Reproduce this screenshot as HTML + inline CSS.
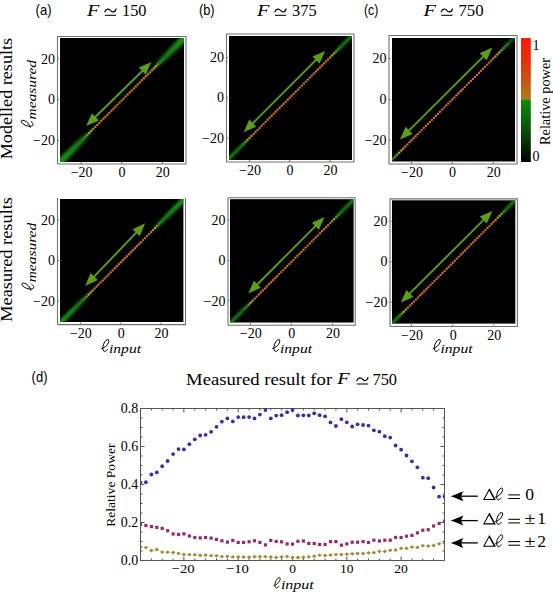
<!DOCTYPE html><html><head><meta charset="utf-8"><style>html,body{margin:0;padding:0;background:#fff;width:553px;height:595px;overflow:hidden}</style></head><body><svg width="553" height="595" viewBox="0 0 553 595" style="display:block">
<defs>
<filter id="blur3" x="-50%" y="-50%" width="200%" height="200%"><feGaussianBlur stdDeviation="2.6"/></filter>
<filter id="blur2" x="-50%" y="-50%" width="200%" height="200%"><feGaussianBlur stdDeviation="1.8"/></filter>
<filter id="blurA" x="-50%" y="-50%" width="200%" height="200%"><feGaussianBlur stdDeviation="1.6"/></filter>
<filter id="blur1" x="-50%" y="-50%" width="200%" height="200%"><feGaussianBlur stdDeviation="1.1"/></filter>
<filter id="soft" x="-50%" y="-50%" width="200%" height="200%"><feGaussianBlur stdDeviation="0.45"/></filter>
<linearGradient id="cbar" x1="0" y1="0" x2="0" y2="1"><stop offset="0" stop-color="#f81c0a"/><stop offset="0.15" stop-color="#ec2a0c"/><stop offset="0.35" stop-color="#c85414"/><stop offset="0.495" stop-color="#a68018"/><stop offset="0.5" stop-color="#0e8a0e"/><stop offset="0.72" stop-color="#0a560a"/><stop offset="1" stop-color="#000"/></linearGradient>
</defs>
<rect width="553" height="595" fill="#fff"/>
<text x="35.6" y="15" font-family="'Liberation Sans', sans-serif" font-size="14.5" textLength="15.9" lengthAdjust="spacingAndGlyphs">(a)</text>
<text x="198.9" y="15" font-family="'Liberation Sans', sans-serif" font-size="14.5" textLength="15.7" lengthAdjust="spacingAndGlyphs">(b)</text>
<text x="363.9" y="15" font-family="'Liberation Sans', sans-serif" font-size="14.5" textLength="14.4" lengthAdjust="spacingAndGlyphs">(c)</text>
<text x="87.0" y="16.2" font-family="'Liberation Serif', serif" font-style="italic" font-size="17.5" textLength="12.4" lengthAdjust="spacingAndGlyphs">F</text>
<path d="M104.90,11.90 C105.90,8.40 109.10,8.60 110.50,10.50 C111.90,12.40 115.10,12.60 116.00,9.00" fill="none" stroke="#000" stroke-width="1.25" stroke-linecap="round"/>
<line x1="104.90" y1="15.30" x2="116.10" y2="15.30" stroke="#000" stroke-width="1.05"/>
<text x="122.0" y="16.2" font-family="'Liberation Serif', serif" font-size="17.5" textLength="24.5" lengthAdjust="spacingAndGlyphs">150</text>
<text x="257.1" y="16.2" font-family="'Liberation Serif', serif" font-style="italic" font-size="17.5" textLength="12.4" lengthAdjust="spacingAndGlyphs">F</text>
<path d="M275.00,11.90 C276.00,8.40 279.20,8.60 280.60,10.50 C282.00,12.40 285.20,12.60 286.10,9.00" fill="none" stroke="#000" stroke-width="1.25" stroke-linecap="round"/>
<line x1="275.00" y1="15.30" x2="286.20" y2="15.30" stroke="#000" stroke-width="1.05"/>
<text x="292.1" y="16.2" font-family="'Liberation Serif', serif" font-size="17.5" textLength="24.5" lengthAdjust="spacingAndGlyphs">375</text>
<text x="423.4" y="16.2" font-family="'Liberation Serif', serif" font-style="italic" font-size="17.5" textLength="12.4" lengthAdjust="spacingAndGlyphs">F</text>
<path d="M441.30,11.90 C442.30,8.40 445.50,8.60 446.90,10.50 C448.30,12.40 451.50,12.60 452.40,9.00" fill="none" stroke="#000" stroke-width="1.25" stroke-linecap="round"/>
<line x1="441.30" y1="15.30" x2="452.50" y2="15.30" stroke="#000" stroke-width="1.05"/>
<text x="458.4" y="16.2" font-family="'Liberation Serif', serif" font-size="17.5" textLength="25.2" lengthAdjust="spacingAndGlyphs">750</text>
<clipPath id="cp0"><rect x="60" y="38" width="124" height="124"/></clipPath>
<path d="M57.5,164 V36.5 H186 V164 H57.5" fill="none" stroke="#707070" stroke-width="1.1"/>
<rect x="60" y="38" width="124" height="124" fill="#000"/>
<g clip-path="url(#cp0)">
<g filter="url(#blurA)">
<circle cx="56.8" cy="165.4" r="3.71" fill="#189018" opacity="0.83"/>
<circle cx="58.8" cy="163.4" r="3.64" fill="#189018" opacity="0.83"/>
<circle cx="60.8" cy="161.3" r="3.57" fill="#189018" opacity="0.83"/>
<circle cx="62.9" cy="159.3" r="3.50" fill="#189018" opacity="0.83"/>
<circle cx="64.9" cy="157.3" r="3.43" fill="#189018" opacity="0.83"/>
<circle cx="66.9" cy="155.3" r="3.36" fill="#189018" opacity="0.83"/>
<circle cx="68.9" cy="153.2" r="3.29" fill="#189018" opacity="0.81"/>
<circle cx="71.0" cy="151.2" r="3.22" fill="#189018" opacity="0.78"/>
<circle cx="73.0" cy="149.2" r="3.15" fill="#189018" opacity="0.76"/>
<circle cx="75.0" cy="147.2" r="3.08" fill="#189018" opacity="0.73"/>
<circle cx="77.0" cy="145.1" r="3.01" fill="#189018" opacity="0.71"/>
<circle cx="79.1" cy="143.1" r="2.94" fill="#189018" opacity="0.68"/>
<circle cx="81.1" cy="141.1" r="2.87" fill="#189018" opacity="0.66"/>
<circle cx="83.1" cy="139.1" r="2.80" fill="#189018" opacity="0.63"/>
<circle cx="85.2" cy="137.0" r="2.63" fill="#189018" opacity="0.55"/>
<circle cx="87.2" cy="135.0" r="2.47" fill="#189018" opacity="0.48"/>
<circle cx="89.2" cy="133.0" r="2.30" fill="#189018" opacity="0.41"/>
<circle cx="91.2" cy="131.0" r="2.13" fill="#189018" opacity="0.33"/>
<circle cx="93.2" cy="128.9" r="1.97" fill="#189018" opacity="0.26"/>
<circle cx="95.3" cy="126.9" r="1.80" fill="#189018" opacity="0.18"/>
<circle cx="97.3" cy="124.9" r="1.80" fill="#189018" opacity="0.18"/>
<circle cx="99.3" cy="122.9" r="1.80" fill="#189018" opacity="0.18"/>
<circle cx="101.3" cy="120.8" r="1.80" fill="#189018" opacity="0.18"/>
<circle cx="103.4" cy="118.8" r="1.80" fill="#189018" opacity="0.18"/>
<circle cx="105.4" cy="116.8" r="1.80" fill="#189018" opacity="0.18"/>
<circle cx="107.4" cy="114.8" r="1.80" fill="#189018" opacity="0.18"/>
<circle cx="109.4" cy="112.8" r="1.80" fill="#189018" opacity="0.18"/>
<circle cx="111.5" cy="110.7" r="1.80" fill="#189018" opacity="0.18"/>
<circle cx="113.5" cy="108.7" r="1.80" fill="#189018" opacity="0.18"/>
<circle cx="115.5" cy="106.7" r="1.80" fill="#189018" opacity="0.18"/>
<circle cx="117.5" cy="104.6" r="1.80" fill="#189018" opacity="0.18"/>
<circle cx="119.6" cy="102.6" r="1.80" fill="#189018" opacity="0.18"/>
<circle cx="121.6" cy="100.6" r="1.80" fill="#189018" opacity="0.18"/>
<circle cx="123.6" cy="98.6" r="1.80" fill="#189018" opacity="0.18"/>
<circle cx="125.6" cy="96.5" r="1.80" fill="#189018" opacity="0.18"/>
<circle cx="127.7" cy="94.5" r="1.80" fill="#189018" opacity="0.18"/>
<circle cx="129.7" cy="92.5" r="1.80" fill="#189018" opacity="0.18"/>
<circle cx="131.7" cy="90.5" r="1.80" fill="#189018" opacity="0.18"/>
<circle cx="133.8" cy="88.4" r="1.80" fill="#189018" opacity="0.18"/>
<circle cx="135.8" cy="86.4" r="1.80" fill="#189018" opacity="0.18"/>
<circle cx="137.8" cy="84.4" r="1.80" fill="#189018" opacity="0.18"/>
<circle cx="139.8" cy="82.4" r="1.80" fill="#189018" opacity="0.18"/>
<circle cx="141.8" cy="80.3" r="1.80" fill="#189018" opacity="0.18"/>
<circle cx="143.9" cy="78.3" r="1.80" fill="#189018" opacity="0.18"/>
<circle cx="145.9" cy="76.3" r="1.80" fill="#189018" opacity="0.18"/>
<circle cx="147.9" cy="74.3" r="1.80" fill="#189018" opacity="0.18"/>
<circle cx="149.9" cy="72.2" r="1.80" fill="#189018" opacity="0.18"/>
<circle cx="152.0" cy="70.2" r="1.97" fill="#189018" opacity="0.26"/>
<circle cx="154.0" cy="68.2" r="2.13" fill="#189018" opacity="0.33"/>
<circle cx="156.0" cy="66.2" r="2.30" fill="#189018" opacity="0.41"/>
<circle cx="158.0" cy="64.2" r="2.47" fill="#189018" opacity="0.48"/>
<circle cx="160.1" cy="62.1" r="2.63" fill="#189018" opacity="0.55"/>
<circle cx="162.1" cy="60.1" r="2.80" fill="#189018" opacity="0.63"/>
<circle cx="164.1" cy="58.1" r="2.87" fill="#189018" opacity="0.66"/>
<circle cx="166.1" cy="56.0" r="2.94" fill="#189018" opacity="0.68"/>
<circle cx="168.2" cy="54.0" r="3.01" fill="#189018" opacity="0.71"/>
<circle cx="170.2" cy="52.0" r="3.08" fill="#189018" opacity="0.73"/>
<circle cx="172.2" cy="50.0" r="3.15" fill="#189018" opacity="0.76"/>
<circle cx="174.2" cy="47.9" r="3.22" fill="#189018" opacity="0.78"/>
<circle cx="176.3" cy="45.9" r="3.29" fill="#189018" opacity="0.81"/>
<circle cx="178.3" cy="43.9" r="3.36" fill="#189018" opacity="0.83"/>
<circle cx="180.3" cy="41.9" r="3.43" fill="#189018" opacity="0.83"/>
<circle cx="182.3" cy="39.8" r="3.50" fill="#189018" opacity="0.83"/>
<circle cx="184.4" cy="37.8" r="3.57" fill="#189018" opacity="0.83"/>
<circle cx="186.4" cy="35.8" r="3.64" fill="#189018" opacity="0.83"/>
</g>
<g>
<circle cx="83.1" cy="139.1" r="1.2" fill="#3ca028" opacity="0.40"/>
<circle cx="85.2" cy="137.0" r="1.2" fill="#69a02c" opacity="0.60"/>
<circle cx="87.2" cy="135.0" r="1.2" fill="#97a030" opacity="0.80"/>
<circle cx="89.2" cy="133.0" r="1.2" fill="#c4a034" opacity="1.00"/>
<circle cx="91.2" cy="131.0" r="1.2" fill="#c78e32" opacity="1.00"/>
<circle cx="93.2" cy="128.9" r="1.2" fill="#c97c30" opacity="1.00"/>
<circle cx="95.3" cy="126.9" r="1.2" fill="#cc6a2e" opacity="1.00"/>
<circle cx="97.3" cy="124.9" r="1.2" fill="#cc6a2e" opacity="1.00"/>
<circle cx="99.3" cy="122.9" r="1.2" fill="#cc6a2e" opacity="1.00"/>
<circle cx="101.3" cy="120.8" r="1.2" fill="#cc6a2e" opacity="1.00"/>
<circle cx="103.4" cy="118.8" r="1.2" fill="#cc6a2e" opacity="1.00"/>
<circle cx="105.4" cy="116.8" r="1.2" fill="#cc6a2e" opacity="1.00"/>
<circle cx="107.4" cy="114.8" r="1.2" fill="#cc6a2e" opacity="1.00"/>
<circle cx="109.4" cy="112.8" r="1.2" fill="#cc6a2e" opacity="1.00"/>
<circle cx="111.5" cy="110.7" r="1.2" fill="#cc6a2e" opacity="1.00"/>
<circle cx="113.5" cy="108.7" r="1.2" fill="#cc6a2e" opacity="1.00"/>
<circle cx="115.5" cy="106.7" r="1.2" fill="#cc6a2e" opacity="1.00"/>
<circle cx="117.5" cy="104.6" r="1.2" fill="#cc6a2e" opacity="1.00"/>
<circle cx="119.6" cy="102.6" r="1.2" fill="#cc6a2e" opacity="1.00"/>
<circle cx="121.6" cy="100.6" r="1.2" fill="#cc6a2e" opacity="1.00"/>
<circle cx="123.6" cy="98.6" r="1.2" fill="#cc6a2e" opacity="1.00"/>
<circle cx="125.6" cy="96.5" r="1.2" fill="#cc6a2e" opacity="1.00"/>
<circle cx="127.7" cy="94.5" r="1.2" fill="#cc6a2e" opacity="1.00"/>
<circle cx="129.7" cy="92.5" r="1.2" fill="#cc6a2e" opacity="1.00"/>
<circle cx="131.7" cy="90.5" r="1.2" fill="#cc6a2e" opacity="1.00"/>
<circle cx="133.8" cy="88.4" r="1.2" fill="#cc6a2e" opacity="1.00"/>
<circle cx="135.8" cy="86.4" r="1.2" fill="#cc6a2e" opacity="1.00"/>
<circle cx="137.8" cy="84.4" r="1.2" fill="#cc6a2e" opacity="1.00"/>
<circle cx="139.8" cy="82.4" r="1.2" fill="#cc6a2e" opacity="1.00"/>
<circle cx="141.8" cy="80.3" r="1.2" fill="#cc6a2e" opacity="1.00"/>
<circle cx="143.9" cy="78.3" r="1.2" fill="#cc6a2e" opacity="1.00"/>
<circle cx="145.9" cy="76.3" r="1.2" fill="#cc6a2e" opacity="1.00"/>
<circle cx="147.9" cy="74.3" r="1.2" fill="#cc6a2e" opacity="1.00"/>
<circle cx="149.9" cy="72.2" r="1.2" fill="#cc6a2e" opacity="1.00"/>
<circle cx="152.0" cy="70.2" r="1.2" fill="#c97c30" opacity="1.00"/>
<circle cx="154.0" cy="68.2" r="1.2" fill="#c78e32" opacity="1.00"/>
<circle cx="156.0" cy="66.2" r="1.2" fill="#c4a034" opacity="1.00"/>
<circle cx="158.0" cy="64.2" r="1.2" fill="#97a030" opacity="0.80"/>
<circle cx="160.1" cy="62.1" r="1.2" fill="#69a02c" opacity="0.60"/>
<circle cx="162.1" cy="60.1" r="1.2" fill="#3ca028" opacity="0.40"/>
</g>
</g>
<line x1="93.5" y1="118.7" x2="144.1" y2="69.2" stroke="#5c9e1c" stroke-width="1.9"/>
<polygon points="86.1,126.0 98.9,120.5 91.9,113.3" fill="#5c9e1c"/>
<polygon points="151.5,61.9 145.7,74.6 138.7,67.4" fill="#5c9e1c"/>
<line x1="81.2" y1="164" x2="81.2" y2="162" stroke="#707070" stroke-width="1"/>
<line x1="121.6" y1="164" x2="121.6" y2="162" stroke="#707070" stroke-width="1"/>
<line x1="162.3" y1="164" x2="162.3" y2="162" stroke="#707070" stroke-width="1"/>
<line x1="57" y1="58.9" x2="59" y2="58.9" stroke="#707070" stroke-width="1"/>
<line x1="57" y1="99.6" x2="59" y2="99.6" stroke="#707070" stroke-width="1"/>
<line x1="57" y1="140.4" x2="59" y2="140.4" stroke="#707070" stroke-width="1"/>
<clipPath id="cp1"><rect x="229" y="36" width="123" height="124"/></clipPath>
<path d="M226.5,162 V34.0 H354 V162 H226.5" fill="none" stroke="#707070" stroke-width="1.1"/>
<rect x="229" y="36" width="123" height="124" fill="#000"/>
<g clip-path="url(#cp1)">
<g filter="url(#blur1)">
<circle cx="225.4" cy="162.1" r="2.24" fill="#189018" opacity="0.87"/>
<circle cx="227.4" cy="160.1" r="2.21" fill="#189018" opacity="0.86"/>
<circle cx="229.4" cy="158.1" r="2.18" fill="#189018" opacity="0.84"/>
<circle cx="231.4" cy="156.1" r="2.15" fill="#189018" opacity="0.82"/>
<circle cx="233.4" cy="154.1" r="2.12" fill="#189018" opacity="0.80"/>
<circle cx="235.5" cy="152.0" r="2.09" fill="#189018" opacity="0.78"/>
<circle cx="237.5" cy="150.0" r="2.06" fill="#189018" opacity="0.76"/>
<circle cx="239.5" cy="148.0" r="2.03" fill="#189018" opacity="0.74"/>
<circle cx="241.5" cy="146.0" r="2.00" fill="#189018" opacity="0.72"/>
<circle cx="243.5" cy="144.0" r="1.88" fill="#189018" opacity="0.62"/>
<circle cx="245.5" cy="142.0" r="1.77" fill="#189018" opacity="0.52"/>
<circle cx="247.5" cy="140.0" r="1.65" fill="#189018" opacity="0.42"/>
<circle cx="249.6" cy="137.9" r="1.53" fill="#189018" opacity="0.32"/>
<circle cx="251.6" cy="135.9" r="1.42" fill="#189018" opacity="0.22"/>
<circle cx="253.6" cy="133.9" r="1.30" fill="#189018" opacity="0.12"/>
<circle cx="255.6" cy="131.9" r="1.30" fill="#189018" opacity="0.12"/>
<circle cx="257.6" cy="129.9" r="1.30" fill="#189018" opacity="0.12"/>
<circle cx="259.6" cy="127.9" r="1.30" fill="#189018" opacity="0.12"/>
<circle cx="261.6" cy="125.9" r="1.30" fill="#189018" opacity="0.12"/>
<circle cx="263.6" cy="123.9" r="1.30" fill="#189018" opacity="0.12"/>
<circle cx="265.7" cy="121.9" r="1.30" fill="#189018" opacity="0.12"/>
<circle cx="267.7" cy="119.8" r="1.30" fill="#189018" opacity="0.12"/>
<circle cx="269.7" cy="117.8" r="1.30" fill="#189018" opacity="0.12"/>
<circle cx="271.7" cy="115.8" r="1.30" fill="#189018" opacity="0.12"/>
<circle cx="273.7" cy="113.8" r="1.30" fill="#189018" opacity="0.12"/>
<circle cx="275.7" cy="111.8" r="1.30" fill="#189018" opacity="0.12"/>
<circle cx="277.7" cy="109.8" r="1.30" fill="#189018" opacity="0.12"/>
<circle cx="279.7" cy="107.8" r="1.30" fill="#189018" opacity="0.12"/>
<circle cx="281.8" cy="105.8" r="1.30" fill="#189018" opacity="0.12"/>
<circle cx="283.8" cy="103.7" r="1.30" fill="#189018" opacity="0.12"/>
<circle cx="285.8" cy="101.7" r="1.30" fill="#189018" opacity="0.12"/>
<circle cx="287.8" cy="99.7" r="1.30" fill="#189018" opacity="0.12"/>
<circle cx="289.8" cy="97.7" r="1.30" fill="#189018" opacity="0.12"/>
<circle cx="291.8" cy="95.7" r="1.30" fill="#189018" opacity="0.12"/>
<circle cx="293.8" cy="93.7" r="1.30" fill="#189018" opacity="0.12"/>
<circle cx="295.8" cy="91.7" r="1.30" fill="#189018" opacity="0.12"/>
<circle cx="297.9" cy="89.7" r="1.30" fill="#189018" opacity="0.12"/>
<circle cx="299.9" cy="87.6" r="1.30" fill="#189018" opacity="0.12"/>
<circle cx="301.9" cy="85.6" r="1.30" fill="#189018" opacity="0.12"/>
<circle cx="303.9" cy="83.6" r="1.30" fill="#189018" opacity="0.12"/>
<circle cx="305.9" cy="81.6" r="1.30" fill="#189018" opacity="0.12"/>
<circle cx="307.9" cy="79.6" r="1.30" fill="#189018" opacity="0.12"/>
<circle cx="309.9" cy="77.6" r="1.30" fill="#189018" opacity="0.12"/>
<circle cx="311.9" cy="75.6" r="1.30" fill="#189018" opacity="0.12"/>
<circle cx="313.9" cy="73.5" r="1.30" fill="#189018" opacity="0.12"/>
<circle cx="316.0" cy="71.5" r="1.30" fill="#189018" opacity="0.12"/>
<circle cx="318.0" cy="69.5" r="1.30" fill="#189018" opacity="0.12"/>
<circle cx="320.0" cy="67.5" r="1.30" fill="#189018" opacity="0.12"/>
<circle cx="322.0" cy="65.5" r="1.30" fill="#189018" opacity="0.12"/>
<circle cx="324.0" cy="63.5" r="1.30" fill="#189018" opacity="0.12"/>
<circle cx="326.0" cy="61.5" r="1.30" fill="#189018" opacity="0.12"/>
<circle cx="328.0" cy="59.5" r="1.30" fill="#189018" opacity="0.12"/>
<circle cx="330.1" cy="57.5" r="1.42" fill="#189018" opacity="0.22"/>
<circle cx="332.1" cy="55.4" r="1.53" fill="#189018" opacity="0.32"/>
<circle cx="334.1" cy="53.4" r="1.65" fill="#189018" opacity="0.42"/>
<circle cx="336.1" cy="51.4" r="1.77" fill="#189018" opacity="0.52"/>
<circle cx="338.1" cy="49.4" r="1.88" fill="#189018" opacity="0.62"/>
<circle cx="340.1" cy="47.4" r="2.00" fill="#189018" opacity="0.72"/>
<circle cx="342.1" cy="45.4" r="2.03" fill="#189018" opacity="0.74"/>
<circle cx="344.1" cy="43.4" r="2.06" fill="#189018" opacity="0.76"/>
<circle cx="346.2" cy="41.3" r="2.09" fill="#189018" opacity="0.78"/>
<circle cx="348.2" cy="39.3" r="2.12" fill="#189018" opacity="0.80"/>
<circle cx="350.2" cy="37.3" r="2.15" fill="#189018" opacity="0.82"/>
<circle cx="352.2" cy="35.3" r="2.18" fill="#189018" opacity="0.84"/>
<circle cx="354.2" cy="33.3" r="2.21" fill="#189018" opacity="0.86"/>
</g>
<g>
<circle cx="241.5" cy="146.0" r="1.2" fill="#3ca028" opacity="0.40"/>
<circle cx="243.5" cy="144.0" r="1.2" fill="#69a02c" opacity="0.60"/>
<circle cx="245.5" cy="142.0" r="1.2" fill="#97a030" opacity="0.80"/>
<circle cx="247.5" cy="140.0" r="1.2" fill="#c4a034" opacity="1.00"/>
<circle cx="249.6" cy="137.9" r="1.2" fill="#c78e32" opacity="1.00"/>
<circle cx="251.6" cy="135.9" r="1.2" fill="#c97c30" opacity="1.00"/>
<circle cx="253.6" cy="133.9" r="1.2" fill="#cc6a2e" opacity="1.00"/>
<circle cx="255.6" cy="131.9" r="1.2" fill="#cc6a2e" opacity="1.00"/>
<circle cx="257.6" cy="129.9" r="1.2" fill="#cc6a2e" opacity="1.00"/>
<circle cx="259.6" cy="127.9" r="1.2" fill="#cc6a2e" opacity="1.00"/>
<circle cx="261.6" cy="125.9" r="1.2" fill="#cc6a2e" opacity="1.00"/>
<circle cx="263.6" cy="123.9" r="1.2" fill="#cc6a2e" opacity="1.00"/>
<circle cx="265.7" cy="121.9" r="1.2" fill="#cc6a2e" opacity="1.00"/>
<circle cx="267.7" cy="119.8" r="1.2" fill="#cc6a2e" opacity="1.00"/>
<circle cx="269.7" cy="117.8" r="1.2" fill="#cc6a2e" opacity="1.00"/>
<circle cx="271.7" cy="115.8" r="1.2" fill="#cc6a2e" opacity="1.00"/>
<circle cx="273.7" cy="113.8" r="1.2" fill="#cc6a2e" opacity="1.00"/>
<circle cx="275.7" cy="111.8" r="1.2" fill="#cc6a2e" opacity="1.00"/>
<circle cx="277.7" cy="109.8" r="1.2" fill="#cc6a2e" opacity="1.00"/>
<circle cx="279.7" cy="107.8" r="1.2" fill="#cc6a2e" opacity="1.00"/>
<circle cx="281.8" cy="105.8" r="1.2" fill="#cc6a2e" opacity="1.00"/>
<circle cx="283.8" cy="103.7" r="1.2" fill="#cc6a2e" opacity="1.00"/>
<circle cx="285.8" cy="101.7" r="1.2" fill="#cc6a2e" opacity="1.00"/>
<circle cx="287.8" cy="99.7" r="1.2" fill="#cc6a2e" opacity="1.00"/>
<circle cx="289.8" cy="97.7" r="1.2" fill="#cc6a2e" opacity="1.00"/>
<circle cx="291.8" cy="95.7" r="1.2" fill="#cc6a2e" opacity="1.00"/>
<circle cx="293.8" cy="93.7" r="1.2" fill="#cc6a2e" opacity="1.00"/>
<circle cx="295.8" cy="91.7" r="1.2" fill="#cc6a2e" opacity="1.00"/>
<circle cx="297.9" cy="89.7" r="1.2" fill="#cc6a2e" opacity="1.00"/>
<circle cx="299.9" cy="87.6" r="1.2" fill="#cc6a2e" opacity="1.00"/>
<circle cx="301.9" cy="85.6" r="1.2" fill="#cc6a2e" opacity="1.00"/>
<circle cx="303.9" cy="83.6" r="1.2" fill="#cc6a2e" opacity="1.00"/>
<circle cx="305.9" cy="81.6" r="1.2" fill="#cc6a2e" opacity="1.00"/>
<circle cx="307.9" cy="79.6" r="1.2" fill="#cc6a2e" opacity="1.00"/>
<circle cx="309.9" cy="77.6" r="1.2" fill="#cc6a2e" opacity="1.00"/>
<circle cx="311.9" cy="75.6" r="1.2" fill="#cc6a2e" opacity="1.00"/>
<circle cx="313.9" cy="73.5" r="1.2" fill="#cc6a2e" opacity="1.00"/>
<circle cx="316.0" cy="71.5" r="1.2" fill="#cc6a2e" opacity="1.00"/>
<circle cx="318.0" cy="69.5" r="1.2" fill="#cc6a2e" opacity="1.00"/>
<circle cx="320.0" cy="67.5" r="1.2" fill="#cc6a2e" opacity="1.00"/>
<circle cx="322.0" cy="65.5" r="1.2" fill="#cc6a2e" opacity="1.00"/>
<circle cx="324.0" cy="63.5" r="1.2" fill="#cc6a2e" opacity="1.00"/>
<circle cx="326.0" cy="61.5" r="1.2" fill="#cc6a2e" opacity="1.00"/>
<circle cx="328.0" cy="59.5" r="1.2" fill="#cc6a2e" opacity="1.00"/>
<circle cx="330.1" cy="57.5" r="1.2" fill="#c97c30" opacity="1.00"/>
<circle cx="332.1" cy="55.4" r="1.2" fill="#c78e32" opacity="1.00"/>
<circle cx="334.1" cy="53.4" r="1.2" fill="#c4a034" opacity="1.00"/>
<circle cx="336.1" cy="51.4" r="1.2" fill="#97a030" opacity="0.80"/>
<circle cx="338.1" cy="49.4" r="1.2" fill="#69a02c" opacity="0.60"/>
<circle cx="340.1" cy="47.4" r="1.2" fill="#3ca028" opacity="0.40"/>
</g>
</g>
<line x1="251.0" y1="125.0" x2="317.8" y2="58.2" stroke="#5c9e1c" stroke-width="1.9"/>
<polygon points="243.6,132.3 256.3,126.7 249.3,119.6" fill="#5c9e1c"/>
<polygon points="325.2,50.9 319.5,63.6 312.5,56.5" fill="#5c9e1c"/>
<line x1="249.6" y1="162" x2="249.6" y2="160" stroke="#707070" stroke-width="1"/>
<line x1="289.6" y1="162" x2="289.6" y2="160" stroke="#707070" stroke-width="1"/>
<line x1="330.1" y1="162" x2="330.1" y2="160" stroke="#707070" stroke-width="1"/>
<line x1="226" y1="57.6" x2="228" y2="57.6" stroke="#707070" stroke-width="1"/>
<line x1="226" y1="97.4" x2="228" y2="97.4" stroke="#707070" stroke-width="1"/>
<line x1="226" y1="138.1" x2="228" y2="138.1" stroke="#707070" stroke-width="1"/>
<clipPath id="cp2"><rect x="392" y="38" width="123" height="123.5"/></clipPath>
<path d="M389.0,164 V35.5 H517 V164 H389.0" fill="none" stroke="#707070" stroke-width="1.1"/>
<rect x="392" y="38" width="123" height="123.5" fill="#000"/>
<g clip-path="url(#cp2)">
<g filter="url(#blur1)">
<circle cx="389.0" cy="162.8" r="1.70" fill="#189018" opacity="0.80"/>
<circle cx="391.0" cy="160.8" r="1.70" fill="#189018" opacity="0.80"/>
<circle cx="393.1" cy="158.7" r="1.61" fill="#189018" opacity="0.72"/>
<circle cx="395.1" cy="156.7" r="1.52" fill="#189018" opacity="0.63"/>
<circle cx="397.2" cy="154.6" r="1.44" fill="#189018" opacity="0.55"/>
<circle cx="399.2" cy="152.6" r="1.35" fill="#189018" opacity="0.46"/>
<circle cx="401.3" cy="150.5" r="1.26" fill="#189018" opacity="0.38"/>
<circle cx="403.3" cy="148.5" r="1.18" fill="#189018" opacity="0.29"/>
<circle cx="405.4" cy="146.4" r="1.09" fill="#189018" opacity="0.21"/>
<circle cx="407.4" cy="144.4" r="1.00" fill="#189018" opacity="0.12"/>
<circle cx="409.5" cy="142.3" r="1.00" fill="#189018" opacity="0.12"/>
<circle cx="411.5" cy="140.3" r="1.00" fill="#189018" opacity="0.12"/>
<circle cx="413.5" cy="138.3" r="1.00" fill="#189018" opacity="0.12"/>
<circle cx="415.6" cy="136.2" r="1.00" fill="#189018" opacity="0.12"/>
<circle cx="417.6" cy="134.2" r="1.00" fill="#189018" opacity="0.12"/>
<circle cx="419.7" cy="132.1" r="1.00" fill="#189018" opacity="0.12"/>
<circle cx="421.7" cy="130.1" r="1.00" fill="#189018" opacity="0.12"/>
<circle cx="423.8" cy="128.0" r="1.00" fill="#189018" opacity="0.12"/>
<circle cx="425.8" cy="126.0" r="1.00" fill="#189018" opacity="0.12"/>
<circle cx="427.9" cy="123.9" r="1.00" fill="#189018" opacity="0.12"/>
<circle cx="429.9" cy="121.9" r="1.00" fill="#189018" opacity="0.12"/>
<circle cx="431.9" cy="119.9" r="1.00" fill="#189018" opacity="0.12"/>
<circle cx="434.0" cy="117.8" r="1.00" fill="#189018" opacity="0.12"/>
<circle cx="436.0" cy="115.8" r="1.00" fill="#189018" opacity="0.12"/>
<circle cx="438.1" cy="113.7" r="1.00" fill="#189018" opacity="0.12"/>
<circle cx="440.1" cy="111.7" r="1.00" fill="#189018" opacity="0.12"/>
<circle cx="442.2" cy="109.6" r="1.00" fill="#189018" opacity="0.12"/>
<circle cx="444.2" cy="107.6" r="1.00" fill="#189018" opacity="0.12"/>
<circle cx="446.3" cy="105.5" r="1.00" fill="#189018" opacity="0.12"/>
<circle cx="448.3" cy="103.5" r="1.00" fill="#189018" opacity="0.12"/>
<circle cx="450.4" cy="101.4" r="1.00" fill="#189018" opacity="0.12"/>
<circle cx="452.4" cy="99.4" r="1.00" fill="#189018" opacity="0.12"/>
<circle cx="454.4" cy="97.4" r="1.00" fill="#189018" opacity="0.12"/>
<circle cx="456.5" cy="95.3" r="1.00" fill="#189018" opacity="0.12"/>
<circle cx="458.5" cy="93.3" r="1.00" fill="#189018" opacity="0.12"/>
<circle cx="460.6" cy="91.2" r="1.00" fill="#189018" opacity="0.12"/>
<circle cx="462.6" cy="89.2" r="1.00" fill="#189018" opacity="0.12"/>
<circle cx="464.7" cy="87.1" r="1.00" fill="#189018" opacity="0.12"/>
<circle cx="466.7" cy="85.1" r="1.00" fill="#189018" opacity="0.12"/>
<circle cx="468.8" cy="83.0" r="1.00" fill="#189018" opacity="0.12"/>
<circle cx="470.8" cy="81.0" r="1.00" fill="#189018" opacity="0.12"/>
<circle cx="472.8" cy="79.0" r="1.00" fill="#189018" opacity="0.12"/>
<circle cx="474.9" cy="76.9" r="1.00" fill="#189018" opacity="0.12"/>
<circle cx="476.9" cy="74.9" r="1.00" fill="#189018" opacity="0.12"/>
<circle cx="479.0" cy="72.8" r="1.00" fill="#189018" opacity="0.12"/>
<circle cx="481.0" cy="70.8" r="1.00" fill="#189018" opacity="0.12"/>
<circle cx="483.1" cy="68.7" r="1.00" fill="#189018" opacity="0.12"/>
<circle cx="485.1" cy="66.7" r="1.00" fill="#189018" opacity="0.12"/>
<circle cx="487.2" cy="64.6" r="1.00" fill="#189018" opacity="0.12"/>
<circle cx="489.2" cy="62.6" r="1.00" fill="#189018" opacity="0.12"/>
<circle cx="491.3" cy="60.5" r="1.00" fill="#189018" opacity="0.12"/>
<circle cx="493.3" cy="58.5" r="1.09" fill="#189018" opacity="0.21"/>
<circle cx="495.3" cy="56.5" r="1.18" fill="#189018" opacity="0.29"/>
<circle cx="497.4" cy="54.4" r="1.26" fill="#189018" opacity="0.38"/>
<circle cx="499.4" cy="52.4" r="1.35" fill="#189018" opacity="0.46"/>
<circle cx="501.5" cy="50.3" r="1.44" fill="#189018" opacity="0.55"/>
<circle cx="503.5" cy="48.3" r="1.52" fill="#189018" opacity="0.63"/>
<circle cx="505.6" cy="46.2" r="1.61" fill="#189018" opacity="0.72"/>
<circle cx="507.6" cy="44.2" r="1.70" fill="#189018" opacity="0.80"/>
<circle cx="509.7" cy="42.1" r="1.70" fill="#189018" opacity="0.80"/>
<circle cx="511.7" cy="40.1" r="1.70" fill="#189018" opacity="0.80"/>
<circle cx="513.8" cy="38.1" r="1.70" fill="#189018" opacity="0.80"/>
<circle cx="515.8" cy="36.0" r="1.70" fill="#189018" opacity="0.80"/>
<circle cx="517.8" cy="34.0" r="1.70" fill="#189018" opacity="0.80"/>
</g>
<g>
<circle cx="391.0" cy="160.8" r="1.2" fill="#3ca028" opacity="0.40"/>
<circle cx="393.1" cy="158.7" r="1.2" fill="#5ea02b" opacity="0.55"/>
<circle cx="395.1" cy="156.7" r="1.2" fill="#80a02e" opacity="0.70"/>
<circle cx="397.2" cy="154.6" r="1.2" fill="#a2a031" opacity="0.85"/>
<circle cx="399.2" cy="152.6" r="1.2" fill="#c4a034" opacity="1.00"/>
<circle cx="401.3" cy="150.5" r="1.2" fill="#c69232" opacity="1.00"/>
<circle cx="403.3" cy="148.5" r="1.2" fill="#c88531" opacity="1.00"/>
<circle cx="405.4" cy="146.4" r="1.2" fill="#ca7830" opacity="1.00"/>
<circle cx="407.4" cy="144.4" r="1.2" fill="#cc6a2e" opacity="1.00"/>
<circle cx="409.5" cy="142.3" r="1.2" fill="#cc6a2e" opacity="1.00"/>
<circle cx="411.5" cy="140.3" r="1.2" fill="#cc6a2e" opacity="1.00"/>
<circle cx="413.5" cy="138.3" r="1.2" fill="#cc6a2e" opacity="1.00"/>
<circle cx="415.6" cy="136.2" r="1.2" fill="#cc6a2e" opacity="1.00"/>
<circle cx="417.6" cy="134.2" r="1.2" fill="#cc6a2e" opacity="1.00"/>
<circle cx="419.7" cy="132.1" r="1.2" fill="#cc6a2e" opacity="1.00"/>
<circle cx="421.7" cy="130.1" r="1.2" fill="#cc6a2e" opacity="1.00"/>
<circle cx="423.8" cy="128.0" r="1.2" fill="#cc6a2e" opacity="1.00"/>
<circle cx="425.8" cy="126.0" r="1.2" fill="#cc6a2e" opacity="1.00"/>
<circle cx="427.9" cy="123.9" r="1.2" fill="#cc6a2e" opacity="1.00"/>
<circle cx="429.9" cy="121.9" r="1.2" fill="#cc6a2e" opacity="1.00"/>
<circle cx="431.9" cy="119.9" r="1.2" fill="#cc6a2e" opacity="1.00"/>
<circle cx="434.0" cy="117.8" r="1.2" fill="#cc6a2e" opacity="1.00"/>
<circle cx="436.0" cy="115.8" r="1.2" fill="#cc6a2e" opacity="1.00"/>
<circle cx="438.1" cy="113.7" r="1.2" fill="#cc6a2e" opacity="1.00"/>
<circle cx="440.1" cy="111.7" r="1.2" fill="#cc6a2e" opacity="1.00"/>
<circle cx="442.2" cy="109.6" r="1.2" fill="#cc6a2e" opacity="1.00"/>
<circle cx="444.2" cy="107.6" r="1.2" fill="#cc6a2e" opacity="1.00"/>
<circle cx="446.3" cy="105.5" r="1.2" fill="#cc6a2e" opacity="1.00"/>
<circle cx="448.3" cy="103.5" r="1.2" fill="#cc6a2e" opacity="1.00"/>
<circle cx="450.4" cy="101.4" r="1.2" fill="#cc6a2e" opacity="1.00"/>
<circle cx="452.4" cy="99.4" r="1.2" fill="#cc6a2e" opacity="1.00"/>
<circle cx="454.4" cy="97.4" r="1.2" fill="#cc6a2e" opacity="1.00"/>
<circle cx="456.5" cy="95.3" r="1.2" fill="#cc6a2e" opacity="1.00"/>
<circle cx="458.5" cy="93.3" r="1.2" fill="#cc6a2e" opacity="1.00"/>
<circle cx="460.6" cy="91.2" r="1.2" fill="#cc6a2e" opacity="1.00"/>
<circle cx="462.6" cy="89.2" r="1.2" fill="#cc6a2e" opacity="1.00"/>
<circle cx="464.7" cy="87.1" r="1.2" fill="#cc6a2e" opacity="1.00"/>
<circle cx="466.7" cy="85.1" r="1.2" fill="#cc6a2e" opacity="1.00"/>
<circle cx="468.8" cy="83.0" r="1.2" fill="#cc6a2e" opacity="1.00"/>
<circle cx="470.8" cy="81.0" r="1.2" fill="#cc6a2e" opacity="1.00"/>
<circle cx="472.8" cy="79.0" r="1.2" fill="#cc6a2e" opacity="1.00"/>
<circle cx="474.9" cy="76.9" r="1.2" fill="#cc6a2e" opacity="1.00"/>
<circle cx="476.9" cy="74.9" r="1.2" fill="#cc6a2e" opacity="1.00"/>
<circle cx="479.0" cy="72.8" r="1.2" fill="#cc6a2e" opacity="1.00"/>
<circle cx="481.0" cy="70.8" r="1.2" fill="#cc6a2e" opacity="1.00"/>
<circle cx="483.1" cy="68.7" r="1.2" fill="#cc6a2e" opacity="1.00"/>
<circle cx="485.1" cy="66.7" r="1.2" fill="#cc6a2e" opacity="1.00"/>
<circle cx="487.2" cy="64.6" r="1.2" fill="#cc6a2e" opacity="1.00"/>
<circle cx="489.2" cy="62.6" r="1.2" fill="#cc6a2e" opacity="1.00"/>
<circle cx="491.3" cy="60.5" r="1.2" fill="#cc6a2e" opacity="1.00"/>
<circle cx="493.3" cy="58.5" r="1.2" fill="#ca7830" opacity="1.00"/>
<circle cx="495.3" cy="56.5" r="1.2" fill="#c88531" opacity="1.00"/>
<circle cx="497.4" cy="54.4" r="1.2" fill="#c69232" opacity="1.00"/>
<circle cx="499.4" cy="52.4" r="1.2" fill="#c4a034" opacity="1.00"/>
<circle cx="501.5" cy="50.3" r="1.2" fill="#a2a031" opacity="0.85"/>
<circle cx="503.5" cy="48.3" r="1.2" fill="#80a02e" opacity="0.70"/>
<circle cx="505.6" cy="46.2" r="1.2" fill="#5ea02b" opacity="0.55"/>
<circle cx="507.6" cy="44.2" r="1.2" fill="#3ca028" opacity="0.40"/>
</g>
</g>
<line x1="407.3" y1="132.2" x2="485.0" y2="54.9" stroke="#5c9e1c" stroke-width="1.9"/>
<polygon points="399.9,139.5 412.6,133.9 405.6,126.8" fill="#5c9e1c"/>
<polygon points="492.4,47.6 486.7,60.3 479.7,53.2" fill="#5c9e1c"/>
<line x1="411.6" y1="164" x2="411.6" y2="162" stroke="#707070" stroke-width="1"/>
<line x1="452.1" y1="164" x2="452.1" y2="162" stroke="#707070" stroke-width="1"/>
<line x1="493.4" y1="164" x2="493.4" y2="162" stroke="#707070" stroke-width="1"/>
<line x1="388.5" y1="58.5" x2="390.5" y2="58.5" stroke="#707070" stroke-width="1"/>
<line x1="388.5" y1="99.6" x2="390.5" y2="99.6" stroke="#707070" stroke-width="1"/>
<line x1="388.5" y1="140.0" x2="390.5" y2="140.0" stroke="#707070" stroke-width="1"/>
<clipPath id="cp3"><rect x="60" y="199" width="123.4" height="123"/></clipPath>
<path d="M57.5,324.6 V198.1 M185.5,198.1 V324.6 H57.5" fill="none" stroke="#707070" stroke-width="1.1"/>
<rect x="60" y="199" width="123.4" height="123" fill="#000"/>
<g clip-path="url(#cp3)">
<g filter="url(#blur1)">
<circle cx="56.3" cy="326.8" r="2.92" fill="#189018" opacity="0.83"/>
<circle cx="58.3" cy="324.8" r="2.88" fill="#189018" opacity="0.83"/>
<circle cx="60.3" cy="322.8" r="2.84" fill="#189018" opacity="0.83"/>
<circle cx="62.4" cy="320.7" r="2.80" fill="#189018" opacity="0.83"/>
<circle cx="64.4" cy="318.7" r="2.76" fill="#189018" opacity="0.83"/>
<circle cx="66.4" cy="316.7" r="2.72" fill="#189018" opacity="0.83"/>
<circle cx="68.4" cy="314.7" r="2.68" fill="#189018" opacity="0.82"/>
<circle cx="70.4" cy="312.7" r="2.64" fill="#189018" opacity="0.80"/>
<circle cx="72.4" cy="310.7" r="2.60" fill="#189018" opacity="0.78"/>
<circle cx="74.5" cy="308.6" r="2.56" fill="#189018" opacity="0.76"/>
<circle cx="76.5" cy="306.6" r="2.52" fill="#189018" opacity="0.74"/>
<circle cx="78.5" cy="304.6" r="2.48" fill="#189018" opacity="0.72"/>
<circle cx="80.5" cy="302.6" r="2.44" fill="#189018" opacity="0.70"/>
<circle cx="82.5" cy="300.6" r="2.40" fill="#189018" opacity="0.68"/>
<circle cx="84.5" cy="298.6" r="2.27" fill="#189018" opacity="0.60"/>
<circle cx="86.5" cy="296.6" r="2.13" fill="#189018" opacity="0.51"/>
<circle cx="88.6" cy="294.5" r="2.00" fill="#189018" opacity="0.43"/>
<circle cx="90.6" cy="292.5" r="1.87" fill="#189018" opacity="0.35"/>
<circle cx="92.6" cy="290.5" r="1.73" fill="#189018" opacity="0.26"/>
<circle cx="94.6" cy="288.5" r="1.60" fill="#189018" opacity="0.18"/>
<circle cx="96.6" cy="286.5" r="1.60" fill="#189018" opacity="0.18"/>
<circle cx="98.6" cy="284.5" r="1.60" fill="#189018" opacity="0.18"/>
<circle cx="100.6" cy="282.4" r="1.60" fill="#189018" opacity="0.18"/>
<circle cx="102.7" cy="280.4" r="1.60" fill="#189018" opacity="0.18"/>
<circle cx="104.7" cy="278.4" r="1.60" fill="#189018" opacity="0.18"/>
<circle cx="106.7" cy="276.4" r="1.60" fill="#189018" opacity="0.18"/>
<circle cx="108.7" cy="274.4" r="1.60" fill="#189018" opacity="0.18"/>
<circle cx="110.7" cy="272.4" r="1.60" fill="#189018" opacity="0.18"/>
<circle cx="112.7" cy="270.4" r="1.60" fill="#189018" opacity="0.18"/>
<circle cx="114.8" cy="268.3" r="1.60" fill="#189018" opacity="0.18"/>
<circle cx="116.8" cy="266.3" r="1.60" fill="#189018" opacity="0.18"/>
<circle cx="118.8" cy="264.3" r="1.60" fill="#189018" opacity="0.18"/>
<circle cx="120.8" cy="262.3" r="1.60" fill="#189018" opacity="0.18"/>
<circle cx="122.8" cy="260.3" r="1.60" fill="#189018" opacity="0.18"/>
<circle cx="124.8" cy="258.3" r="1.60" fill="#189018" opacity="0.18"/>
<circle cx="126.8" cy="256.3" r="1.60" fill="#189018" opacity="0.18"/>
<circle cx="128.9" cy="254.2" r="1.60" fill="#189018" opacity="0.18"/>
<circle cx="130.9" cy="252.2" r="1.60" fill="#189018" opacity="0.18"/>
<circle cx="132.9" cy="250.2" r="1.60" fill="#189018" opacity="0.18"/>
<circle cx="134.9" cy="248.2" r="1.60" fill="#189018" opacity="0.18"/>
<circle cx="136.9" cy="246.2" r="1.60" fill="#189018" opacity="0.18"/>
<circle cx="138.9" cy="244.2" r="1.60" fill="#189018" opacity="0.18"/>
<circle cx="140.9" cy="242.2" r="1.60" fill="#189018" opacity="0.18"/>
<circle cx="143.0" cy="240.1" r="1.60" fill="#189018" opacity="0.18"/>
<circle cx="145.0" cy="238.1" r="1.60" fill="#189018" opacity="0.18"/>
<circle cx="147.0" cy="236.1" r="1.60" fill="#189018" opacity="0.18"/>
<circle cx="149.0" cy="234.1" r="1.60" fill="#189018" opacity="0.18"/>
<circle cx="151.0" cy="232.1" r="1.73" fill="#189018" opacity="0.26"/>
<circle cx="153.0" cy="230.1" r="1.87" fill="#189018" opacity="0.35"/>
<circle cx="155.1" cy="228.0" r="2.00" fill="#189018" opacity="0.43"/>
<circle cx="157.1" cy="226.0" r="2.13" fill="#189018" opacity="0.51"/>
<circle cx="159.1" cy="224.0" r="2.27" fill="#189018" opacity="0.60"/>
<circle cx="161.1" cy="222.0" r="2.40" fill="#189018" opacity="0.68"/>
<circle cx="163.1" cy="220.0" r="2.44" fill="#189018" opacity="0.70"/>
<circle cx="165.1" cy="218.0" r="2.48" fill="#189018" opacity="0.72"/>
<circle cx="167.1" cy="216.0" r="2.52" fill="#189018" opacity="0.74"/>
<circle cx="169.2" cy="213.9" r="2.56" fill="#189018" opacity="0.76"/>
<circle cx="171.2" cy="211.9" r="2.60" fill="#189018" opacity="0.78"/>
<circle cx="173.2" cy="209.9" r="2.64" fill="#189018" opacity="0.80"/>
<circle cx="175.2" cy="207.9" r="2.68" fill="#189018" opacity="0.82"/>
<circle cx="177.2" cy="205.9" r="2.72" fill="#189018" opacity="0.83"/>
<circle cx="179.2" cy="203.9" r="2.76" fill="#189018" opacity="0.83"/>
<circle cx="181.2" cy="201.9" r="2.80" fill="#189018" opacity="0.83"/>
<circle cx="183.3" cy="199.8" r="2.84" fill="#189018" opacity="0.83"/>
<circle cx="185.3" cy="197.8" r="2.88" fill="#189018" opacity="0.83"/>
<circle cx="187.3" cy="195.8" r="2.92" fill="#189018" opacity="0.83"/>
</g>
<g>
<circle cx="82.5" cy="300.6" r="1.2" fill="#3ca028" opacity="0.40"/>
<circle cx="84.5" cy="298.6" r="1.2" fill="#69a02c" opacity="0.60"/>
<circle cx="86.5" cy="296.6" r="1.2" fill="#97a030" opacity="0.80"/>
<circle cx="88.6" cy="294.5" r="1.2" fill="#c4a034" opacity="1.00"/>
<circle cx="90.6" cy="292.5" r="1.2" fill="#c78e32" opacity="1.00"/>
<circle cx="92.6" cy="290.5" r="1.2" fill="#c97c30" opacity="1.00"/>
<circle cx="94.6" cy="288.5" r="1.2" fill="#cc6a2e" opacity="1.00"/>
<circle cx="96.6" cy="286.5" r="1.2" fill="#cc6a2e" opacity="1.00"/>
<circle cx="98.6" cy="284.5" r="1.2" fill="#cc6a2e" opacity="1.00"/>
<circle cx="100.6" cy="282.4" r="1.2" fill="#cc6a2e" opacity="1.00"/>
<circle cx="102.7" cy="280.4" r="1.2" fill="#cc6a2e" opacity="1.00"/>
<circle cx="104.7" cy="278.4" r="1.2" fill="#cc6a2e" opacity="1.00"/>
<circle cx="106.7" cy="276.4" r="1.2" fill="#cc6a2e" opacity="1.00"/>
<circle cx="108.7" cy="274.4" r="1.2" fill="#cc6a2e" opacity="1.00"/>
<circle cx="110.7" cy="272.4" r="1.2" fill="#cc6a2e" opacity="1.00"/>
<circle cx="112.7" cy="270.4" r="1.2" fill="#cc6a2e" opacity="1.00"/>
<circle cx="114.8" cy="268.3" r="1.2" fill="#cc6a2e" opacity="1.00"/>
<circle cx="116.8" cy="266.3" r="1.2" fill="#cc6a2e" opacity="1.00"/>
<circle cx="118.8" cy="264.3" r="1.2" fill="#cc6a2e" opacity="1.00"/>
<circle cx="120.8" cy="262.3" r="1.2" fill="#cc6a2e" opacity="1.00"/>
<circle cx="122.8" cy="260.3" r="1.2" fill="#cc6a2e" opacity="1.00"/>
<circle cx="124.8" cy="258.3" r="1.2" fill="#cc6a2e" opacity="1.00"/>
<circle cx="126.8" cy="256.3" r="1.2" fill="#cc6a2e" opacity="1.00"/>
<circle cx="128.9" cy="254.2" r="1.2" fill="#cc6a2e" opacity="1.00"/>
<circle cx="130.9" cy="252.2" r="1.2" fill="#cc6a2e" opacity="1.00"/>
<circle cx="132.9" cy="250.2" r="1.2" fill="#cc6a2e" opacity="1.00"/>
<circle cx="134.9" cy="248.2" r="1.2" fill="#cc6a2e" opacity="1.00"/>
<circle cx="136.9" cy="246.2" r="1.2" fill="#cc6a2e" opacity="1.00"/>
<circle cx="138.9" cy="244.2" r="1.2" fill="#cc6a2e" opacity="1.00"/>
<circle cx="140.9" cy="242.2" r="1.2" fill="#cc6a2e" opacity="1.00"/>
<circle cx="143.0" cy="240.1" r="1.2" fill="#cc6a2e" opacity="1.00"/>
<circle cx="145.0" cy="238.1" r="1.2" fill="#cc6a2e" opacity="1.00"/>
<circle cx="147.0" cy="236.1" r="1.2" fill="#cc6a2e" opacity="1.00"/>
<circle cx="149.0" cy="234.1" r="1.2" fill="#cc6a2e" opacity="1.00"/>
<circle cx="151.0" cy="232.1" r="1.2" fill="#c97c30" opacity="1.00"/>
<circle cx="153.0" cy="230.1" r="1.2" fill="#c78e32" opacity="1.00"/>
<circle cx="155.1" cy="228.0" r="1.2" fill="#c4a034" opacity="1.00"/>
<circle cx="157.1" cy="226.0" r="1.2" fill="#97a030" opacity="0.80"/>
<circle cx="159.1" cy="224.0" r="1.2" fill="#69a02c" opacity="0.60"/>
<circle cx="161.1" cy="222.0" r="1.2" fill="#3ca028" opacity="0.40"/>
</g>
</g>
<line x1="92.4" y1="278.4" x2="138.0" y2="230.8" stroke="#5c9e1c" stroke-width="1.9"/>
<polygon points="85.2,285.9 97.8,280.0 90.6,273.1" fill="#5c9e1c"/>
<polygon points="145.2,223.3 139.8,236.1 132.6,229.2" fill="#5c9e1c"/>
<line x1="80.5" y1="324.6" x2="80.5" y2="322.6" stroke="#707070" stroke-width="1"/>
<line x1="120.8" y1="324.6" x2="120.8" y2="322.6" stroke="#707070" stroke-width="1"/>
<line x1="161.0" y1="324.6" x2="161.0" y2="322.6" stroke="#707070" stroke-width="1"/>
<line x1="57" y1="220.2" x2="59" y2="220.2" stroke="#707070" stroke-width="1"/>
<line x1="57" y1="260.5" x2="59" y2="260.5" stroke="#707070" stroke-width="1"/>
<line x1="57" y1="300.8" x2="59" y2="300.8" stroke="#707070" stroke-width="1"/>
<clipPath id="cp4"><rect x="230" y="199.2" width="123.60000000000002" height="123.30000000000001"/></clipPath>
<path d="M228.0,325.2 V197.8 H355.2 V325.2 H228.0" fill="none" stroke="#707070" stroke-width="1.1"/>
<rect x="230" y="199.2" width="123.60000000000002" height="123.30000000000001" fill="#000"/>
<g clip-path="url(#cp4)">
<g filter="url(#blur1)">
<circle cx="226.1" cy="327.2" r="2.27" fill="#189018" opacity="0.87"/>
<circle cx="228.2" cy="325.1" r="2.24" fill="#189018" opacity="0.87"/>
<circle cx="230.2" cy="323.1" r="2.21" fill="#189018" opacity="0.86"/>
<circle cx="232.2" cy="321.1" r="2.18" fill="#189018" opacity="0.84"/>
<circle cx="234.3" cy="319.0" r="2.15" fill="#189018" opacity="0.82"/>
<circle cx="236.3" cy="317.0" r="2.12" fill="#189018" opacity="0.80"/>
<circle cx="238.4" cy="314.9" r="2.09" fill="#189018" opacity="0.78"/>
<circle cx="240.4" cy="312.9" r="2.06" fill="#189018" opacity="0.76"/>
<circle cx="242.4" cy="310.9" r="2.03" fill="#189018" opacity="0.74"/>
<circle cx="244.5" cy="308.8" r="2.00" fill="#189018" opacity="0.72"/>
<circle cx="246.5" cy="306.8" r="1.88" fill="#189018" opacity="0.62"/>
<circle cx="248.6" cy="304.7" r="1.77" fill="#189018" opacity="0.52"/>
<circle cx="250.6" cy="302.7" r="1.65" fill="#189018" opacity="0.42"/>
<circle cx="252.6" cy="300.7" r="1.53" fill="#189018" opacity="0.32"/>
<circle cx="254.7" cy="298.6" r="1.42" fill="#189018" opacity="0.22"/>
<circle cx="256.7" cy="296.6" r="1.30" fill="#189018" opacity="0.12"/>
<circle cx="258.8" cy="294.5" r="1.30" fill="#189018" opacity="0.12"/>
<circle cx="260.8" cy="292.5" r="1.30" fill="#189018" opacity="0.12"/>
<circle cx="262.8" cy="290.5" r="1.30" fill="#189018" opacity="0.12"/>
<circle cx="264.9" cy="288.4" r="1.30" fill="#189018" opacity="0.12"/>
<circle cx="266.9" cy="286.4" r="1.30" fill="#189018" opacity="0.12"/>
<circle cx="269.0" cy="284.3" r="1.30" fill="#189018" opacity="0.12"/>
<circle cx="271.0" cy="282.3" r="1.30" fill="#189018" opacity="0.12"/>
<circle cx="273.0" cy="280.3" r="1.30" fill="#189018" opacity="0.12"/>
<circle cx="275.1" cy="278.2" r="1.30" fill="#189018" opacity="0.12"/>
<circle cx="277.1" cy="276.2" r="1.30" fill="#189018" opacity="0.12"/>
<circle cx="279.2" cy="274.1" r="1.30" fill="#189018" opacity="0.12"/>
<circle cx="281.2" cy="272.1" r="1.30" fill="#189018" opacity="0.12"/>
<circle cx="283.2" cy="270.1" r="1.30" fill="#189018" opacity="0.12"/>
<circle cx="285.3" cy="268.0" r="1.30" fill="#189018" opacity="0.12"/>
<circle cx="287.3" cy="266.0" r="1.30" fill="#189018" opacity="0.12"/>
<circle cx="289.4" cy="263.9" r="1.30" fill="#189018" opacity="0.12"/>
<circle cx="291.4" cy="261.9" r="1.30" fill="#189018" opacity="0.12"/>
<circle cx="293.4" cy="259.9" r="1.30" fill="#189018" opacity="0.12"/>
<circle cx="295.5" cy="257.8" r="1.30" fill="#189018" opacity="0.12"/>
<circle cx="297.5" cy="255.8" r="1.30" fill="#189018" opacity="0.12"/>
<circle cx="299.6" cy="253.7" r="1.30" fill="#189018" opacity="0.12"/>
<circle cx="301.6" cy="251.7" r="1.30" fill="#189018" opacity="0.12"/>
<circle cx="303.6" cy="249.7" r="1.30" fill="#189018" opacity="0.12"/>
<circle cx="305.7" cy="247.6" r="1.30" fill="#189018" opacity="0.12"/>
<circle cx="307.7" cy="245.6" r="1.30" fill="#189018" opacity="0.12"/>
<circle cx="309.8" cy="243.5" r="1.30" fill="#189018" opacity="0.12"/>
<circle cx="311.8" cy="241.5" r="1.30" fill="#189018" opacity="0.12"/>
<circle cx="313.8" cy="239.5" r="1.30" fill="#189018" opacity="0.12"/>
<circle cx="315.9" cy="237.4" r="1.30" fill="#189018" opacity="0.12"/>
<circle cx="317.9" cy="235.4" r="1.30" fill="#189018" opacity="0.12"/>
<circle cx="320.0" cy="233.3" r="1.30" fill="#189018" opacity="0.12"/>
<circle cx="322.0" cy="231.3" r="1.30" fill="#189018" opacity="0.12"/>
<circle cx="324.0" cy="229.3" r="1.30" fill="#189018" opacity="0.12"/>
<circle cx="326.1" cy="227.2" r="1.30" fill="#189018" opacity="0.12"/>
<circle cx="328.1" cy="225.2" r="1.30" fill="#189018" opacity="0.12"/>
<circle cx="330.2" cy="223.1" r="1.42" fill="#189018" opacity="0.22"/>
<circle cx="332.2" cy="221.1" r="1.53" fill="#189018" opacity="0.32"/>
<circle cx="334.2" cy="219.1" r="1.65" fill="#189018" opacity="0.42"/>
<circle cx="336.3" cy="217.0" r="1.77" fill="#189018" opacity="0.52"/>
<circle cx="338.3" cy="215.0" r="1.88" fill="#189018" opacity="0.62"/>
<circle cx="340.4" cy="212.9" r="2.00" fill="#189018" opacity="0.72"/>
<circle cx="342.4" cy="210.9" r="2.03" fill="#189018" opacity="0.74"/>
<circle cx="344.4" cy="208.9" r="2.06" fill="#189018" opacity="0.76"/>
<circle cx="346.5" cy="206.8" r="2.09" fill="#189018" opacity="0.78"/>
<circle cx="348.5" cy="204.8" r="2.12" fill="#189018" opacity="0.80"/>
<circle cx="350.6" cy="202.7" r="2.15" fill="#189018" opacity="0.82"/>
<circle cx="352.6" cy="200.7" r="2.18" fill="#189018" opacity="0.84"/>
<circle cx="354.6" cy="198.7" r="2.21" fill="#189018" opacity="0.86"/>
<circle cx="356.7" cy="196.6" r="2.24" fill="#189018" opacity="0.87"/>
</g>
<g>
<circle cx="244.5" cy="308.8" r="1.2" fill="#3ca028" opacity="0.40"/>
<circle cx="246.5" cy="306.8" r="1.2" fill="#69a02c" opacity="0.60"/>
<circle cx="248.6" cy="304.7" r="1.2" fill="#97a030" opacity="0.80"/>
<circle cx="250.6" cy="302.7" r="1.2" fill="#c4a034" opacity="1.00"/>
<circle cx="252.6" cy="300.7" r="1.2" fill="#c78e32" opacity="1.00"/>
<circle cx="254.7" cy="298.6" r="1.2" fill="#c97c30" opacity="1.00"/>
<circle cx="256.7" cy="296.6" r="1.2" fill="#cc6a2e" opacity="1.00"/>
<circle cx="258.8" cy="294.5" r="1.2" fill="#cc6a2e" opacity="1.00"/>
<circle cx="260.8" cy="292.5" r="1.2" fill="#cc6a2e" opacity="1.00"/>
<circle cx="262.8" cy="290.5" r="1.2" fill="#cc6a2e" opacity="1.00"/>
<circle cx="264.9" cy="288.4" r="1.2" fill="#cc6a2e" opacity="1.00"/>
<circle cx="266.9" cy="286.4" r="1.2" fill="#cc6a2e" opacity="1.00"/>
<circle cx="269.0" cy="284.3" r="1.2" fill="#cc6a2e" opacity="1.00"/>
<circle cx="271.0" cy="282.3" r="1.2" fill="#cc6a2e" opacity="1.00"/>
<circle cx="273.0" cy="280.3" r="1.2" fill="#cc6a2e" opacity="1.00"/>
<circle cx="275.1" cy="278.2" r="1.2" fill="#cc6a2e" opacity="1.00"/>
<circle cx="277.1" cy="276.2" r="1.2" fill="#cc6a2e" opacity="1.00"/>
<circle cx="279.2" cy="274.1" r="1.2" fill="#cc6a2e" opacity="1.00"/>
<circle cx="281.2" cy="272.1" r="1.2" fill="#cc6a2e" opacity="1.00"/>
<circle cx="283.2" cy="270.1" r="1.2" fill="#cc6a2e" opacity="1.00"/>
<circle cx="285.3" cy="268.0" r="1.2" fill="#cc6a2e" opacity="1.00"/>
<circle cx="287.3" cy="266.0" r="1.2" fill="#cc6a2e" opacity="1.00"/>
<circle cx="289.4" cy="263.9" r="1.2" fill="#cc6a2e" opacity="1.00"/>
<circle cx="291.4" cy="261.9" r="1.2" fill="#cc6a2e" opacity="1.00"/>
<circle cx="293.4" cy="259.9" r="1.2" fill="#cc6a2e" opacity="1.00"/>
<circle cx="295.5" cy="257.8" r="1.2" fill="#cc6a2e" opacity="1.00"/>
<circle cx="297.5" cy="255.8" r="1.2" fill="#cc6a2e" opacity="1.00"/>
<circle cx="299.6" cy="253.7" r="1.2" fill="#cc6a2e" opacity="1.00"/>
<circle cx="301.6" cy="251.7" r="1.2" fill="#cc6a2e" opacity="1.00"/>
<circle cx="303.6" cy="249.7" r="1.2" fill="#cc6a2e" opacity="1.00"/>
<circle cx="305.7" cy="247.6" r="1.2" fill="#cc6a2e" opacity="1.00"/>
<circle cx="307.7" cy="245.6" r="1.2" fill="#cc6a2e" opacity="1.00"/>
<circle cx="309.8" cy="243.5" r="1.2" fill="#cc6a2e" opacity="1.00"/>
<circle cx="311.8" cy="241.5" r="1.2" fill="#cc6a2e" opacity="1.00"/>
<circle cx="313.8" cy="239.5" r="1.2" fill="#cc6a2e" opacity="1.00"/>
<circle cx="315.9" cy="237.4" r="1.2" fill="#cc6a2e" opacity="1.00"/>
<circle cx="317.9" cy="235.4" r="1.2" fill="#cc6a2e" opacity="1.00"/>
<circle cx="320.0" cy="233.3" r="1.2" fill="#cc6a2e" opacity="1.00"/>
<circle cx="322.0" cy="231.3" r="1.2" fill="#cc6a2e" opacity="1.00"/>
<circle cx="324.0" cy="229.3" r="1.2" fill="#cc6a2e" opacity="1.00"/>
<circle cx="326.1" cy="227.2" r="1.2" fill="#cc6a2e" opacity="1.00"/>
<circle cx="328.1" cy="225.2" r="1.2" fill="#cc6a2e" opacity="1.00"/>
<circle cx="330.2" cy="223.1" r="1.2" fill="#c97c30" opacity="1.00"/>
<circle cx="332.2" cy="221.1" r="1.2" fill="#c78e32" opacity="1.00"/>
<circle cx="334.2" cy="219.1" r="1.2" fill="#c4a034" opacity="1.00"/>
<circle cx="336.3" cy="217.0" r="1.2" fill="#97a030" opacity="0.80"/>
<circle cx="338.3" cy="215.0" r="1.2" fill="#69a02c" opacity="0.60"/>
<circle cx="340.4" cy="212.9" r="1.2" fill="#3ca028" opacity="0.40"/>
</g>
</g>
<line x1="255.6" y1="286.0" x2="317.2" y2="224.4" stroke="#5c9e1c" stroke-width="1.9"/>
<polygon points="248.2,293.4 260.9,287.7 253.9,280.7" fill="#5c9e1c"/>
<polygon points="324.6,217.0 318.9,229.7 311.9,222.7" fill="#5c9e1c"/>
<line x1="250.3" y1="325.2" x2="250.3" y2="323.2" stroke="#707070" stroke-width="1"/>
<line x1="291.3" y1="325.2" x2="291.3" y2="323.2" stroke="#707070" stroke-width="1"/>
<line x1="332.6" y1="325.2" x2="332.6" y2="323.2" stroke="#707070" stroke-width="1"/>
<line x1="227.5" y1="220.2" x2="229.5" y2="220.2" stroke="#707070" stroke-width="1"/>
<line x1="227.5" y1="260.5" x2="229.5" y2="260.5" stroke="#707070" stroke-width="1"/>
<line x1="227.5" y1="300.8" x2="229.5" y2="300.8" stroke="#707070" stroke-width="1"/>
<clipPath id="cp5"><rect x="392" y="200.3" width="123.29999999999995" height="123.30000000000001"/></clipPath>
<path d="M390.0,326.5 V198.9 H517.4 V326.5 H390.0" fill="none" stroke="#707070" stroke-width="1.1"/>
<rect x="392" y="200.3" width="123.29999999999995" height="123.30000000000001" fill="#000"/>
<g clip-path="url(#cp5)">
<g filter="url(#blur1)">
<circle cx="389.6" cy="325.9" r="2.12" fill="#189018" opacity="0.80"/>
<circle cx="391.6" cy="323.9" r="2.09" fill="#189018" opacity="0.78"/>
<circle cx="393.6" cy="321.9" r="2.06" fill="#189018" opacity="0.76"/>
<circle cx="395.7" cy="319.8" r="2.03" fill="#189018" opacity="0.74"/>
<circle cx="397.7" cy="317.8" r="2.00" fill="#189018" opacity="0.72"/>
<circle cx="399.8" cy="315.7" r="1.88" fill="#189018" opacity="0.62"/>
<circle cx="401.8" cy="313.7" r="1.77" fill="#189018" opacity="0.52"/>
<circle cx="403.8" cy="311.7" r="1.65" fill="#189018" opacity="0.42"/>
<circle cx="405.9" cy="309.6" r="1.53" fill="#189018" opacity="0.32"/>
<circle cx="407.9" cy="307.6" r="1.42" fill="#189018" opacity="0.22"/>
<circle cx="410.0" cy="305.5" r="1.30" fill="#189018" opacity="0.12"/>
<circle cx="412.0" cy="303.5" r="1.30" fill="#189018" opacity="0.12"/>
<circle cx="414.0" cy="301.5" r="1.30" fill="#189018" opacity="0.12"/>
<circle cx="416.1" cy="299.4" r="1.30" fill="#189018" opacity="0.12"/>
<circle cx="418.1" cy="297.4" r="1.30" fill="#189018" opacity="0.12"/>
<circle cx="420.2" cy="295.3" r="1.30" fill="#189018" opacity="0.12"/>
<circle cx="422.2" cy="293.3" r="1.30" fill="#189018" opacity="0.12"/>
<circle cx="424.2" cy="291.3" r="1.30" fill="#189018" opacity="0.12"/>
<circle cx="426.3" cy="289.2" r="1.30" fill="#189018" opacity="0.12"/>
<circle cx="428.3" cy="287.2" r="1.30" fill="#189018" opacity="0.12"/>
<circle cx="430.4" cy="285.1" r="1.30" fill="#189018" opacity="0.12"/>
<circle cx="432.4" cy="283.1" r="1.30" fill="#189018" opacity="0.12"/>
<circle cx="434.4" cy="281.1" r="1.30" fill="#189018" opacity="0.12"/>
<circle cx="436.5" cy="279.0" r="1.30" fill="#189018" opacity="0.12"/>
<circle cx="438.5" cy="277.0" r="1.30" fill="#189018" opacity="0.12"/>
<circle cx="440.6" cy="274.9" r="1.30" fill="#189018" opacity="0.12"/>
<circle cx="442.6" cy="272.9" r="1.30" fill="#189018" opacity="0.12"/>
<circle cx="444.6" cy="270.9" r="1.30" fill="#189018" opacity="0.12"/>
<circle cx="446.7" cy="268.8" r="1.30" fill="#189018" opacity="0.12"/>
<circle cx="448.7" cy="266.8" r="1.30" fill="#189018" opacity="0.12"/>
<circle cx="450.8" cy="264.7" r="1.30" fill="#189018" opacity="0.12"/>
<circle cx="452.8" cy="262.7" r="1.30" fill="#189018" opacity="0.12"/>
<circle cx="454.8" cy="260.7" r="1.30" fill="#189018" opacity="0.12"/>
<circle cx="456.9" cy="258.6" r="1.30" fill="#189018" opacity="0.12"/>
<circle cx="458.9" cy="256.6" r="1.30" fill="#189018" opacity="0.12"/>
<circle cx="461.0" cy="254.5" r="1.30" fill="#189018" opacity="0.12"/>
<circle cx="463.0" cy="252.5" r="1.30" fill="#189018" opacity="0.12"/>
<circle cx="465.0" cy="250.5" r="1.30" fill="#189018" opacity="0.12"/>
<circle cx="467.1" cy="248.4" r="1.30" fill="#189018" opacity="0.12"/>
<circle cx="469.1" cy="246.4" r="1.30" fill="#189018" opacity="0.12"/>
<circle cx="471.2" cy="244.3" r="1.30" fill="#189018" opacity="0.12"/>
<circle cx="473.2" cy="242.3" r="1.30" fill="#189018" opacity="0.12"/>
<circle cx="475.2" cy="240.3" r="1.30" fill="#189018" opacity="0.12"/>
<circle cx="477.3" cy="238.2" r="1.30" fill="#189018" opacity="0.12"/>
<circle cx="479.3" cy="236.2" r="1.30" fill="#189018" opacity="0.12"/>
<circle cx="481.4" cy="234.1" r="1.30" fill="#189018" opacity="0.12"/>
<circle cx="483.4" cy="232.1" r="1.30" fill="#189018" opacity="0.12"/>
<circle cx="485.4" cy="230.1" r="1.30" fill="#189018" opacity="0.12"/>
<circle cx="487.5" cy="228.0" r="1.30" fill="#189018" opacity="0.12"/>
<circle cx="489.5" cy="226.0" r="1.30" fill="#189018" opacity="0.12"/>
<circle cx="491.6" cy="223.9" r="1.30" fill="#189018" opacity="0.12"/>
<circle cx="493.6" cy="221.9" r="1.30" fill="#189018" opacity="0.12"/>
<circle cx="495.6" cy="219.9" r="1.42" fill="#189018" opacity="0.22"/>
<circle cx="497.7" cy="217.8" r="1.53" fill="#189018" opacity="0.32"/>
<circle cx="499.7" cy="215.8" r="1.65" fill="#189018" opacity="0.42"/>
<circle cx="501.8" cy="213.7" r="1.77" fill="#189018" opacity="0.52"/>
<circle cx="503.8" cy="211.7" r="1.88" fill="#189018" opacity="0.62"/>
<circle cx="505.8" cy="209.7" r="2.00" fill="#189018" opacity="0.72"/>
<circle cx="507.9" cy="207.6" r="2.03" fill="#189018" opacity="0.74"/>
<circle cx="509.9" cy="205.6" r="2.06" fill="#189018" opacity="0.76"/>
<circle cx="512.0" cy="203.5" r="2.09" fill="#189018" opacity="0.78"/>
<circle cx="514.0" cy="201.5" r="2.12" fill="#189018" opacity="0.80"/>
<circle cx="516.0" cy="199.5" r="2.15" fill="#189018" opacity="0.82"/>
<circle cx="518.1" cy="197.4" r="2.18" fill="#189018" opacity="0.84"/>
</g>
<g>
<circle cx="397.7" cy="317.8" r="1.2" fill="#3ca028" opacity="0.40"/>
<circle cx="399.8" cy="315.7" r="1.2" fill="#69a02c" opacity="0.60"/>
<circle cx="401.8" cy="313.7" r="1.2" fill="#97a030" opacity="0.80"/>
<circle cx="403.8" cy="311.7" r="1.2" fill="#c4a034" opacity="1.00"/>
<circle cx="405.9" cy="309.6" r="1.2" fill="#c78e32" opacity="1.00"/>
<circle cx="407.9" cy="307.6" r="1.2" fill="#c97c30" opacity="1.00"/>
<circle cx="410.0" cy="305.5" r="1.2" fill="#cc6a2e" opacity="1.00"/>
<circle cx="412.0" cy="303.5" r="1.2" fill="#cc6a2e" opacity="1.00"/>
<circle cx="414.0" cy="301.5" r="1.2" fill="#cc6a2e" opacity="1.00"/>
<circle cx="416.1" cy="299.4" r="1.2" fill="#cc6a2e" opacity="1.00"/>
<circle cx="418.1" cy="297.4" r="1.2" fill="#cc6a2e" opacity="1.00"/>
<circle cx="420.2" cy="295.3" r="1.2" fill="#cc6a2e" opacity="1.00"/>
<circle cx="422.2" cy="293.3" r="1.2" fill="#cc6a2e" opacity="1.00"/>
<circle cx="424.2" cy="291.3" r="1.2" fill="#cc6a2e" opacity="1.00"/>
<circle cx="426.3" cy="289.2" r="1.2" fill="#cc6a2e" opacity="1.00"/>
<circle cx="428.3" cy="287.2" r="1.2" fill="#cc6a2e" opacity="1.00"/>
<circle cx="430.4" cy="285.1" r="1.2" fill="#cc6a2e" opacity="1.00"/>
<circle cx="432.4" cy="283.1" r="1.2" fill="#cc6a2e" opacity="1.00"/>
<circle cx="434.4" cy="281.1" r="1.2" fill="#cc6a2e" opacity="1.00"/>
<circle cx="436.5" cy="279.0" r="1.2" fill="#cc6a2e" opacity="1.00"/>
<circle cx="438.5" cy="277.0" r="1.2" fill="#cc6a2e" opacity="1.00"/>
<circle cx="440.6" cy="274.9" r="1.2" fill="#cc6a2e" opacity="1.00"/>
<circle cx="442.6" cy="272.9" r="1.2" fill="#cc6a2e" opacity="1.00"/>
<circle cx="444.6" cy="270.9" r="1.2" fill="#cc6a2e" opacity="1.00"/>
<circle cx="446.7" cy="268.8" r="1.2" fill="#cc6a2e" opacity="1.00"/>
<circle cx="448.7" cy="266.8" r="1.2" fill="#cc6a2e" opacity="1.00"/>
<circle cx="450.8" cy="264.7" r="1.2" fill="#cc6a2e" opacity="1.00"/>
<circle cx="452.8" cy="262.7" r="1.2" fill="#cc6a2e" opacity="1.00"/>
<circle cx="454.8" cy="260.7" r="1.2" fill="#cc6a2e" opacity="1.00"/>
<circle cx="456.9" cy="258.6" r="1.2" fill="#cc6a2e" opacity="1.00"/>
<circle cx="458.9" cy="256.6" r="1.2" fill="#cc6a2e" opacity="1.00"/>
<circle cx="461.0" cy="254.5" r="1.2" fill="#cc6a2e" opacity="1.00"/>
<circle cx="463.0" cy="252.5" r="1.2" fill="#cc6a2e" opacity="1.00"/>
<circle cx="465.0" cy="250.5" r="1.2" fill="#cc6a2e" opacity="1.00"/>
<circle cx="467.1" cy="248.4" r="1.2" fill="#cc6a2e" opacity="1.00"/>
<circle cx="469.1" cy="246.4" r="1.2" fill="#cc6a2e" opacity="1.00"/>
<circle cx="471.2" cy="244.3" r="1.2" fill="#cc6a2e" opacity="1.00"/>
<circle cx="473.2" cy="242.3" r="1.2" fill="#cc6a2e" opacity="1.00"/>
<circle cx="475.2" cy="240.3" r="1.2" fill="#cc6a2e" opacity="1.00"/>
<circle cx="477.3" cy="238.2" r="1.2" fill="#cc6a2e" opacity="1.00"/>
<circle cx="479.3" cy="236.2" r="1.2" fill="#cc6a2e" opacity="1.00"/>
<circle cx="481.4" cy="234.1" r="1.2" fill="#cc6a2e" opacity="1.00"/>
<circle cx="483.4" cy="232.1" r="1.2" fill="#cc6a2e" opacity="1.00"/>
<circle cx="485.4" cy="230.1" r="1.2" fill="#cc6a2e" opacity="1.00"/>
<circle cx="487.5" cy="228.0" r="1.2" fill="#cc6a2e" opacity="1.00"/>
<circle cx="489.5" cy="226.0" r="1.2" fill="#cc6a2e" opacity="1.00"/>
<circle cx="491.6" cy="223.9" r="1.2" fill="#cc6a2e" opacity="1.00"/>
<circle cx="493.6" cy="221.9" r="1.2" fill="#cc6a2e" opacity="1.00"/>
<circle cx="495.6" cy="219.9" r="1.2" fill="#c97c30" opacity="1.00"/>
<circle cx="497.7" cy="217.8" r="1.2" fill="#c78e32" opacity="1.00"/>
<circle cx="499.7" cy="215.8" r="1.2" fill="#c4a034" opacity="1.00"/>
<circle cx="501.8" cy="213.7" r="1.2" fill="#97a030" opacity="0.80"/>
<circle cx="503.8" cy="211.7" r="1.2" fill="#69a02c" opacity="0.60"/>
<circle cx="505.8" cy="209.7" r="1.2" fill="#3ca028" opacity="0.40"/>
</g>
</g>
<line x1="408.1" y1="295.2" x2="485.1" y2="218.3" stroke="#5c9e1c" stroke-width="1.9"/>
<polygon points="400.8,302.6 413.5,296.9 406.4,289.9" fill="#5c9e1c"/>
<polygon points="492.4,210.9 486.8,223.6 479.7,216.6" fill="#5c9e1c"/>
<line x1="411.6" y1="326.5" x2="411.6" y2="324.5" stroke="#707070" stroke-width="1"/>
<line x1="452.8" y1="326.5" x2="452.8" y2="324.5" stroke="#707070" stroke-width="1"/>
<line x1="493.9" y1="326.5" x2="493.9" y2="324.5" stroke="#707070" stroke-width="1"/>
<line x1="389.5" y1="221.2" x2="391.5" y2="221.2" stroke="#707070" stroke-width="1"/>
<line x1="389.5" y1="261.5" x2="391.5" y2="261.5" stroke="#707070" stroke-width="1"/>
<line x1="389.5" y1="302.3" x2="391.5" y2="302.3" stroke="#707070" stroke-width="1"/>
<text x="55.0" y="63.6" font-family="'Liberation Serif', serif" font-size="14" text-anchor="end">20</text>
<text x="55.0" y="104.3" font-family="'Liberation Serif', serif" font-size="14" text-anchor="end">0</text>
<text x="55.0" y="145.1" font-family="'Liberation Serif', serif" font-size="14" text-anchor="end">−20</text>
<text x="81.6" y="177.0" font-family="'Liberation Serif', serif" font-size="14" text-anchor="middle">−20</text>
<text x="122.0" y="177.0" font-family="'Liberation Serif', serif" font-size="14" text-anchor="middle">0</text>
<text x="162.7" y="177.0" font-family="'Liberation Serif', serif" font-size="14" text-anchor="middle">20</text>
<text x="224.0" y="62.3" font-family="'Liberation Serif', serif" font-size="14" text-anchor="end">20</text>
<text x="224.0" y="102.1" font-family="'Liberation Serif', serif" font-size="14" text-anchor="end">0</text>
<text x="224.0" y="142.8" font-family="'Liberation Serif', serif" font-size="14" text-anchor="end">−20</text>
<text x="250.0" y="175.0" font-family="'Liberation Serif', serif" font-size="14" text-anchor="middle">−20</text>
<text x="290.0" y="175.0" font-family="'Liberation Serif', serif" font-size="14" text-anchor="middle">0</text>
<text x="330.5" y="175.0" font-family="'Liberation Serif', serif" font-size="14" text-anchor="middle">20</text>
<text x="386.5" y="63.2" font-family="'Liberation Serif', serif" font-size="14" text-anchor="end">20</text>
<text x="386.5" y="104.3" font-family="'Liberation Serif', serif" font-size="14" text-anchor="end">0</text>
<text x="386.5" y="144.7" font-family="'Liberation Serif', serif" font-size="14" text-anchor="end">−20</text>
<text x="412.0" y="177.0" font-family="'Liberation Serif', serif" font-size="14" text-anchor="middle">−20</text>
<text x="452.5" y="177.0" font-family="'Liberation Serif', serif" font-size="14" text-anchor="middle">0</text>
<text x="493.8" y="177.0" font-family="'Liberation Serif', serif" font-size="14" text-anchor="middle">20</text>
<text x="55.0" y="224.9" font-family="'Liberation Serif', serif" font-size="14" text-anchor="end">20</text>
<text x="55.0" y="265.2" font-family="'Liberation Serif', serif" font-size="14" text-anchor="end">0</text>
<text x="55.0" y="305.5" font-family="'Liberation Serif', serif" font-size="14" text-anchor="end">−20</text>
<text x="80.9" y="337.6" font-family="'Liberation Serif', serif" font-size="14" text-anchor="middle">−20</text>
<text x="121.2" y="337.6" font-family="'Liberation Serif', serif" font-size="14" text-anchor="middle">0</text>
<text x="161.4" y="337.6" font-family="'Liberation Serif', serif" font-size="14" text-anchor="middle">20</text>
<text x="225.5" y="224.9" font-family="'Liberation Serif', serif" font-size="14" text-anchor="end">20</text>
<text x="225.5" y="265.2" font-family="'Liberation Serif', serif" font-size="14" text-anchor="end">0</text>
<text x="225.5" y="305.5" font-family="'Liberation Serif', serif" font-size="14" text-anchor="end">−20</text>
<text x="250.7" y="338.2" font-family="'Liberation Serif', serif" font-size="14" text-anchor="middle">−20</text>
<text x="291.7" y="338.2" font-family="'Liberation Serif', serif" font-size="14" text-anchor="middle">0</text>
<text x="333.0" y="338.2" font-family="'Liberation Serif', serif" font-size="14" text-anchor="middle">20</text>
<text x="387.5" y="225.9" font-family="'Liberation Serif', serif" font-size="14" text-anchor="end">20</text>
<text x="387.5" y="266.2" font-family="'Liberation Serif', serif" font-size="14" text-anchor="end">0</text>
<text x="387.5" y="307.0" font-family="'Liberation Serif', serif" font-size="14" text-anchor="end">−20</text>
<text x="412.0" y="339.5" font-family="'Liberation Serif', serif" font-size="14" text-anchor="middle">−20</text>
<text x="453.2" y="339.5" font-family="'Liberation Serif', serif" font-size="14" text-anchor="middle">0</text>
<text x="494.3" y="339.5" font-family="'Liberation Serif', serif" font-size="14" text-anchor="middle">20</text>
<text transform="translate(12.3,159.3) rotate(-90)" font-family="'Liberation Serif', serif" font-size="17" textLength="121.4" lengthAdjust="spacingAndGlyphs">Modelled results</text>
<text transform="translate(12.3,321.8) rotate(-90)" font-family="'Liberation Serif', serif" font-size="17" textLength="124.8" lengthAdjust="spacingAndGlyphs">Measured results</text>
<g transform="translate(33.2,127.5) rotate(-90)">
<path d="M0.10,-2.90 C3.00,-3.60 6.20,-6.20 7.00,-9.20 C7.50,-11.00 7.00,-12.30 6.00,-12.00 C4.20,-11.50 1.60,-8.00 1.30,-4.60 C1.10,-2.40 1.60,0.00 2.90,0.00 C4.00,0.00 5.00,-0.90 5.80,-1.90" fill="none" stroke="#000" stroke-width="1.00" stroke-linecap="round" stroke-linejoin="round"/>
</g>
<text transform="translate(35.6,119.5) rotate(-90)" font-family="'Liberation Serif', serif" font-style="italic" font-size="13.5" textLength="59.5" lengthAdjust="spacingAndGlyphs">measured</text>
<g transform="translate(33.8,290.3) rotate(-90)">
<path d="M0.10,-2.90 C3.00,-3.60 6.20,-6.20 7.00,-9.20 C7.50,-11.00 7.00,-12.30 6.00,-12.00 C4.20,-11.50 1.60,-8.00 1.30,-4.60 C1.10,-2.40 1.60,0.00 2.90,0.00 C4.00,0.00 5.00,-0.90 5.80,-1.90" fill="none" stroke="#000" stroke-width="1.00" stroke-linecap="round" stroke-linejoin="round"/>
</g>
<text transform="translate(36.199999999999996,282.3) rotate(-90)" font-family="'Liberation Serif', serif" font-style="italic" font-size="13.5" textLength="59.5" lengthAdjust="spacingAndGlyphs">measured</text>
<path d="M101.70,348.50 C104.60,347.80 107.80,345.20 108.60,342.20 C109.10,340.40 108.60,339.10 107.60,339.40 C105.80,339.90 103.20,343.40 102.90,346.80 C102.70,349.00 103.20,351.40 104.50,351.40 C105.60,351.40 106.60,350.50 107.40,349.50" fill="none" stroke="#000" stroke-width="1.00" stroke-linecap="round" stroke-linejoin="round"/>
<text x="109.0" y="353.4" font-family="'Liberation Serif', serif" font-style="italic" font-size="13" textLength="32" lengthAdjust="spacingAndGlyphs">input</text>
<path d="M272.70,348.50 C275.60,347.80 278.80,345.20 279.60,342.20 C280.10,340.40 279.60,339.10 278.60,339.40 C276.80,339.90 274.20,343.40 273.90,346.80 C273.70,349.00 274.20,351.40 275.50,351.40 C276.60,351.40 277.60,350.50 278.40,349.50" fill="none" stroke="#000" stroke-width="1.00" stroke-linecap="round" stroke-linejoin="round"/>
<text x="280.0" y="353.4" font-family="'Liberation Serif', serif" font-style="italic" font-size="13" textLength="32" lengthAdjust="spacingAndGlyphs">input</text>
<path d="M433.20,348.50 C436.10,347.80 439.30,345.20 440.10,342.20 C440.60,340.40 440.10,339.10 439.10,339.40 C437.30,339.90 434.70,343.40 434.40,346.80 C434.20,349.00 434.70,351.40 436.00,351.40 C437.10,351.40 438.10,350.50 438.90,349.50" fill="none" stroke="#000" stroke-width="1.00" stroke-linecap="round" stroke-linejoin="round"/>
<text x="440.5" y="353.4" font-family="'Liberation Serif', serif" font-style="italic" font-size="13" textLength="32" lengthAdjust="spacingAndGlyphs">input</text>
<rect x="521" y="38" width="9.8" height="124" fill="url(#cbar)"/>
<text x="532.6" y="49.5" font-family="'Liberation Serif', serif" font-size="14">1</text>
<text x="532.4" y="161" font-family="'Liberation Serif', serif" font-size="14">0</text>
<text transform="translate(550.3,145) rotate(-90)" font-family="'Liberation Serif', serif" font-size="15" textLength="87" lengthAdjust="spacingAndGlyphs">Relative power</text>
<text x="31.6" y="382" font-family="'Liberation Sans', sans-serif" font-size="14.5" textLength="15.9" lengthAdjust="spacingAndGlyphs">(d)</text>
<text x="186.1" y="384.9" font-family="'Liberation Serif', serif" font-size="17" textLength="146" lengthAdjust="spacingAndGlyphs">Measured result for</text>
<text x="337.3" y="384.3" font-family="'Liberation Serif', serif" font-style="italic" font-size="17.5" textLength="12.4" lengthAdjust="spacingAndGlyphs">F</text>
<path d="M356.90,380.60 C357.90,377.10 361.10,377.30 362.50,379.20 C363.90,381.10 367.10,381.30 368.00,377.70" fill="none" stroke="#000" stroke-width="1.25" stroke-linecap="round"/>
<line x1="356.90" y1="384.00" x2="368.10" y2="384.00" stroke="#000" stroke-width="1.05"/>
<text x="372.5" y="384.9" font-family="'Liberation Serif', serif" font-size="17.5" textLength="24.5" lengthAdjust="spacingAndGlyphs">750</text>
<rect x="140.5" y="408.5" width="304.0" height="152.0" fill="none" stroke="#555" stroke-width="1"/>
<clipPath id="chartclip"><rect x="141.0" y="402.5" width="303.0" height="157.5"/></clipPath>
<line x1="140.5" y1="560.5" x2="140.5" y2="558.5" stroke="#555" stroke-width="1"/>
<line x1="140.5" y1="408.5" x2="140.5" y2="410.5" stroke="#555" stroke-width="1"/>
<line x1="151.4" y1="560.5" x2="151.4" y2="558.5" stroke="#555" stroke-width="1"/>
<line x1="151.4" y1="408.5" x2="151.4" y2="410.5" stroke="#555" stroke-width="1"/>
<line x1="162.2" y1="560.5" x2="162.2" y2="558.5" stroke="#555" stroke-width="1"/>
<line x1="162.2" y1="408.5" x2="162.2" y2="410.5" stroke="#555" stroke-width="1"/>
<line x1="173.1" y1="560.5" x2="173.1" y2="558.5" stroke="#555" stroke-width="1"/>
<line x1="173.1" y1="408.5" x2="173.1" y2="410.5" stroke="#555" stroke-width="1"/>
<line x1="183.9" y1="560.5" x2="183.9" y2="556.5" stroke="#555" stroke-width="1"/>
<line x1="183.9" y1="408.5" x2="183.9" y2="412.5" stroke="#555" stroke-width="1"/>
<line x1="194.8" y1="560.5" x2="194.8" y2="558.5" stroke="#555" stroke-width="1"/>
<line x1="194.8" y1="408.5" x2="194.8" y2="410.5" stroke="#555" stroke-width="1"/>
<line x1="205.6" y1="560.5" x2="205.6" y2="558.5" stroke="#555" stroke-width="1"/>
<line x1="205.6" y1="408.5" x2="205.6" y2="410.5" stroke="#555" stroke-width="1"/>
<line x1="216.5" y1="560.5" x2="216.5" y2="558.5" stroke="#555" stroke-width="1"/>
<line x1="216.5" y1="408.5" x2="216.5" y2="410.5" stroke="#555" stroke-width="1"/>
<line x1="227.4" y1="560.5" x2="227.4" y2="558.5" stroke="#555" stroke-width="1"/>
<line x1="227.4" y1="408.5" x2="227.4" y2="410.5" stroke="#555" stroke-width="1"/>
<line x1="238.2" y1="560.5" x2="238.2" y2="556.5" stroke="#555" stroke-width="1"/>
<line x1="238.2" y1="408.5" x2="238.2" y2="412.5" stroke="#555" stroke-width="1"/>
<line x1="249.1" y1="560.5" x2="249.1" y2="558.5" stroke="#555" stroke-width="1"/>
<line x1="249.1" y1="408.5" x2="249.1" y2="410.5" stroke="#555" stroke-width="1"/>
<line x1="259.9" y1="560.5" x2="259.9" y2="558.5" stroke="#555" stroke-width="1"/>
<line x1="259.9" y1="408.5" x2="259.9" y2="410.5" stroke="#555" stroke-width="1"/>
<line x1="270.8" y1="560.5" x2="270.8" y2="558.5" stroke="#555" stroke-width="1"/>
<line x1="270.8" y1="408.5" x2="270.8" y2="410.5" stroke="#555" stroke-width="1"/>
<line x1="281.6" y1="560.5" x2="281.6" y2="558.5" stroke="#555" stroke-width="1"/>
<line x1="281.6" y1="408.5" x2="281.6" y2="410.5" stroke="#555" stroke-width="1"/>
<line x1="292.5" y1="560.5" x2="292.5" y2="556.5" stroke="#555" stroke-width="1"/>
<line x1="292.5" y1="408.5" x2="292.5" y2="412.5" stroke="#555" stroke-width="1"/>
<line x1="303.4" y1="560.5" x2="303.4" y2="558.5" stroke="#555" stroke-width="1"/>
<line x1="303.4" y1="408.5" x2="303.4" y2="410.5" stroke="#555" stroke-width="1"/>
<line x1="314.2" y1="560.5" x2="314.2" y2="558.5" stroke="#555" stroke-width="1"/>
<line x1="314.2" y1="408.5" x2="314.2" y2="410.5" stroke="#555" stroke-width="1"/>
<line x1="325.1" y1="560.5" x2="325.1" y2="558.5" stroke="#555" stroke-width="1"/>
<line x1="325.1" y1="408.5" x2="325.1" y2="410.5" stroke="#555" stroke-width="1"/>
<line x1="335.9" y1="560.5" x2="335.9" y2="558.5" stroke="#555" stroke-width="1"/>
<line x1="335.9" y1="408.5" x2="335.9" y2="410.5" stroke="#555" stroke-width="1"/>
<line x1="346.8" y1="560.5" x2="346.8" y2="556.5" stroke="#555" stroke-width="1"/>
<line x1="346.8" y1="408.5" x2="346.8" y2="412.5" stroke="#555" stroke-width="1"/>
<line x1="357.6" y1="560.5" x2="357.6" y2="558.5" stroke="#555" stroke-width="1"/>
<line x1="357.6" y1="408.5" x2="357.6" y2="410.5" stroke="#555" stroke-width="1"/>
<line x1="368.5" y1="560.5" x2="368.5" y2="558.5" stroke="#555" stroke-width="1"/>
<line x1="368.5" y1="408.5" x2="368.5" y2="410.5" stroke="#555" stroke-width="1"/>
<line x1="379.4" y1="560.5" x2="379.4" y2="558.5" stroke="#555" stroke-width="1"/>
<line x1="379.4" y1="408.5" x2="379.4" y2="410.5" stroke="#555" stroke-width="1"/>
<line x1="390.2" y1="560.5" x2="390.2" y2="558.5" stroke="#555" stroke-width="1"/>
<line x1="390.2" y1="408.5" x2="390.2" y2="410.5" stroke="#555" stroke-width="1"/>
<line x1="401.1" y1="560.5" x2="401.1" y2="556.5" stroke="#555" stroke-width="1"/>
<line x1="401.1" y1="408.5" x2="401.1" y2="412.5" stroke="#555" stroke-width="1"/>
<line x1="411.9" y1="560.5" x2="411.9" y2="558.5" stroke="#555" stroke-width="1"/>
<line x1="411.9" y1="408.5" x2="411.9" y2="410.5" stroke="#555" stroke-width="1"/>
<line x1="422.8" y1="560.5" x2="422.8" y2="558.5" stroke="#555" stroke-width="1"/>
<line x1="422.8" y1="408.5" x2="422.8" y2="410.5" stroke="#555" stroke-width="1"/>
<line x1="433.6" y1="560.5" x2="433.6" y2="558.5" stroke="#555" stroke-width="1"/>
<line x1="433.6" y1="408.5" x2="433.6" y2="410.5" stroke="#555" stroke-width="1"/>
<line x1="444.5" y1="560.5" x2="444.5" y2="558.5" stroke="#555" stroke-width="1"/>
<line x1="444.5" y1="408.5" x2="444.5" y2="410.5" stroke="#555" stroke-width="1"/>
<line x1="140.5" y1="560.5" x2="144.5" y2="560.5" stroke="#555" stroke-width="1"/>
<line x1="444.5" y1="560.5" x2="440.5" y2="560.5" stroke="#555" stroke-width="1"/>
<line x1="140.5" y1="551.0" x2="142.5" y2="551.0" stroke="#555" stroke-width="1"/>
<line x1="444.5" y1="551.0" x2="442.5" y2="551.0" stroke="#555" stroke-width="1"/>
<line x1="140.5" y1="541.5" x2="142.5" y2="541.5" stroke="#555" stroke-width="1"/>
<line x1="444.5" y1="541.5" x2="442.5" y2="541.5" stroke="#555" stroke-width="1"/>
<line x1="140.5" y1="532.0" x2="142.5" y2="532.0" stroke="#555" stroke-width="1"/>
<line x1="444.5" y1="532.0" x2="442.5" y2="532.0" stroke="#555" stroke-width="1"/>
<line x1="140.5" y1="522.5" x2="144.5" y2="522.5" stroke="#555" stroke-width="1"/>
<line x1="444.5" y1="522.5" x2="440.5" y2="522.5" stroke="#555" stroke-width="1"/>
<line x1="140.5" y1="513.0" x2="142.5" y2="513.0" stroke="#555" stroke-width="1"/>
<line x1="444.5" y1="513.0" x2="442.5" y2="513.0" stroke="#555" stroke-width="1"/>
<line x1="140.5" y1="503.5" x2="142.5" y2="503.5" stroke="#555" stroke-width="1"/>
<line x1="444.5" y1="503.5" x2="442.5" y2="503.5" stroke="#555" stroke-width="1"/>
<line x1="140.5" y1="494.0" x2="142.5" y2="494.0" stroke="#555" stroke-width="1"/>
<line x1="444.5" y1="494.0" x2="442.5" y2="494.0" stroke="#555" stroke-width="1"/>
<line x1="140.5" y1="484.5" x2="144.5" y2="484.5" stroke="#555" stroke-width="1"/>
<line x1="444.5" y1="484.5" x2="440.5" y2="484.5" stroke="#555" stroke-width="1"/>
<line x1="140.5" y1="475.0" x2="142.5" y2="475.0" stroke="#555" stroke-width="1"/>
<line x1="444.5" y1="475.0" x2="442.5" y2="475.0" stroke="#555" stroke-width="1"/>
<line x1="140.5" y1="465.5" x2="142.5" y2="465.5" stroke="#555" stroke-width="1"/>
<line x1="444.5" y1="465.5" x2="442.5" y2="465.5" stroke="#555" stroke-width="1"/>
<line x1="140.5" y1="456.0" x2="142.5" y2="456.0" stroke="#555" stroke-width="1"/>
<line x1="444.5" y1="456.0" x2="442.5" y2="456.0" stroke="#555" stroke-width="1"/>
<line x1="140.5" y1="446.5" x2="144.5" y2="446.5" stroke="#555" stroke-width="1"/>
<line x1="444.5" y1="446.5" x2="440.5" y2="446.5" stroke="#555" stroke-width="1"/>
<line x1="140.5" y1="437.0" x2="142.5" y2="437.0" stroke="#555" stroke-width="1"/>
<line x1="444.5" y1="437.0" x2="442.5" y2="437.0" stroke="#555" stroke-width="1"/>
<line x1="140.5" y1="427.5" x2="142.5" y2="427.5" stroke="#555" stroke-width="1"/>
<line x1="444.5" y1="427.5" x2="442.5" y2="427.5" stroke="#555" stroke-width="1"/>
<line x1="140.5" y1="418.0" x2="142.5" y2="418.0" stroke="#555" stroke-width="1"/>
<line x1="444.5" y1="418.0" x2="442.5" y2="418.0" stroke="#555" stroke-width="1"/>
<line x1="140.5" y1="408.5" x2="144.5" y2="408.5" stroke="#555" stroke-width="1"/>
<line x1="444.5" y1="408.5" x2="440.5" y2="408.5" stroke="#555" stroke-width="1"/>
<text x="138.2" y="564.9" font-family="'Liberation Serif', serif" font-size="14" text-anchor="end">0.0</text>
<text x="138.2" y="526.9" font-family="'Liberation Serif', serif" font-size="14" text-anchor="end">0.2</text>
<text x="138.2" y="488.9" font-family="'Liberation Serif', serif" font-size="14" text-anchor="end">0.4</text>
<text x="138.2" y="450.9" font-family="'Liberation Serif', serif" font-size="14" text-anchor="end">0.6</text>
<text x="138.2" y="412.9" font-family="'Liberation Serif', serif" font-size="14" text-anchor="end">0.8</text>
<text x="183.1" y="573" font-family="'Liberation Serif', serif" font-size="13.5" text-anchor="middle" textLength="23" lengthAdjust="spacingAndGlyphs">−20</text>
<text x="237.4" y="573" font-family="'Liberation Serif', serif" font-size="13.5" text-anchor="middle" textLength="23" lengthAdjust="spacingAndGlyphs">−10</text>
<text x="292.5" y="573" font-family="'Liberation Serif', serif" font-size="13.5" text-anchor="middle">0</text>
<text x="346.8" y="573" font-family="'Liberation Serif', serif" font-size="13.5" text-anchor="middle">10</text>
<text x="401.1" y="573" font-family="'Liberation Serif', serif" font-size="13.5" text-anchor="middle">20</text>
<text transform="translate(115.2,526.8) rotate(-90)" font-family="'Liberation Serif', serif" font-size="13" textLength="83.3" lengthAdjust="spacingAndGlyphs">Relative Power</text>
<path d="M273.99,585.46 C276.52,584.85 279.32,582.58 280.02,579.95 C280.46,578.38 280.02,577.24 279.15,577.50 C277.57,577.94 275.30,581.00 275.04,583.98 C274.86,585.90 275.30,588.00 276.44,588.00 C277.40,588.00 278.27,587.21 278.97,586.34" fill="none" stroke="#000" stroke-width="0.88" stroke-linecap="round" stroke-linejoin="round"/>
<text x="280.9" y="589.2" font-family="'Liberation Serif', serif" font-style="italic" font-size="12" textLength="32.9" lengthAdjust="spacingAndGlyphs">input</text>
<g clip-path="url(#chartclip)">
<circle cx="140.5" cy="482.5" r="1.9" fill="#33339a"/>
<circle cx="145.9" cy="482.2" r="1.9" fill="#33339a"/>
<circle cx="151.4" cy="474.5" r="1.9" fill="#33339a"/>
<circle cx="156.8" cy="472.4" r="1.9" fill="#33339a"/>
<circle cx="162.2" cy="466.2" r="1.9" fill="#33339a"/>
<circle cx="167.6" cy="461.0" r="1.9" fill="#33339a"/>
<circle cx="173.1" cy="454.1" r="1.9" fill="#33339a"/>
<circle cx="178.5" cy="449.1" r="1.9" fill="#33339a"/>
<circle cx="183.9" cy="449.4" r="1.9" fill="#33339a"/>
<circle cx="189.4" cy="444.2" r="1.9" fill="#33339a"/>
<circle cx="194.8" cy="439.3" r="1.9" fill="#33339a"/>
<circle cx="200.2" cy="435.5" r="1.9" fill="#33339a"/>
<circle cx="205.6" cy="434.8" r="1.9" fill="#33339a"/>
<circle cx="211.1" cy="431.8" r="1.9" fill="#33339a"/>
<circle cx="216.5" cy="426.8" r="1.9" fill="#33339a"/>
<circle cx="221.9" cy="421.7" r="1.9" fill="#33339a"/>
<circle cx="227.4" cy="418.4" r="1.9" fill="#33339a"/>
<circle cx="232.8" cy="421.4" r="1.9" fill="#33339a"/>
<circle cx="238.2" cy="417.1" r="1.9" fill="#33339a"/>
<circle cx="243.6" cy="417.2" r="1.9" fill="#33339a"/>
<circle cx="249.1" cy="417.1" r="1.9" fill="#33339a"/>
<circle cx="254.5" cy="418.4" r="1.9" fill="#33339a"/>
<circle cx="259.9" cy="414.6" r="1.9" fill="#33339a"/>
<circle cx="265.4" cy="410.1" r="1.9" fill="#33339a"/>
<circle cx="270.8" cy="418.4" r="1.9" fill="#33339a"/>
<circle cx="276.2" cy="415.6" r="1.9" fill="#33339a"/>
<circle cx="281.6" cy="415.2" r="1.9" fill="#33339a"/>
<circle cx="287.1" cy="412.2" r="1.9" fill="#33339a"/>
<circle cx="292.5" cy="410.0" r="1.9" fill="#33339a"/>
<circle cx="297.9" cy="415.5" r="1.9" fill="#33339a"/>
<circle cx="303.4" cy="415.3" r="1.9" fill="#33339a"/>
<circle cx="308.8" cy="415.5" r="1.9" fill="#33339a"/>
<circle cx="314.2" cy="413.3" r="1.9" fill="#33339a"/>
<circle cx="319.6" cy="415.2" r="1.9" fill="#33339a"/>
<circle cx="325.1" cy="416.3" r="1.9" fill="#33339a"/>
<circle cx="330.5" cy="422.4" r="1.9" fill="#33339a"/>
<circle cx="335.9" cy="426.0" r="1.9" fill="#33339a"/>
<circle cx="341.4" cy="419.2" r="1.9" fill="#33339a"/>
<circle cx="346.8" cy="422.3" r="1.9" fill="#33339a"/>
<circle cx="352.2" cy="426.5" r="1.9" fill="#33339a"/>
<circle cx="357.6" cy="424.3" r="1.9" fill="#33339a"/>
<circle cx="363.1" cy="425.0" r="1.9" fill="#33339a"/>
<circle cx="368.5" cy="425.6" r="1.9" fill="#33339a"/>
<circle cx="373.9" cy="430.3" r="1.9" fill="#33339a"/>
<circle cx="379.4" cy="431.7" r="1.9" fill="#33339a"/>
<circle cx="384.8" cy="436.2" r="1.9" fill="#33339a"/>
<circle cx="390.2" cy="437.6" r="1.9" fill="#33339a"/>
<circle cx="395.6" cy="445.5" r="1.9" fill="#33339a"/>
<circle cx="401.1" cy="449.7" r="1.9" fill="#33339a"/>
<circle cx="406.5" cy="455.5" r="1.9" fill="#33339a"/>
<circle cx="411.9" cy="461.3" r="1.9" fill="#33339a"/>
<circle cx="417.4" cy="467.3" r="1.9" fill="#33339a"/>
<circle cx="422.8" cy="477.7" r="1.9" fill="#33339a"/>
<circle cx="428.2" cy="478.2" r="1.9" fill="#33339a"/>
<circle cx="433.6" cy="487.5" r="1.9" fill="#33339a"/>
<circle cx="439.1" cy="496.7" r="1.9" fill="#33339a"/>
<circle cx="444.5" cy="496.7" r="1.9" fill="#33339a"/>
<rect x="138.9" y="522.9" width="3.2" height="3.2" fill="#942a70"/>
<rect x="144.3" y="523.9" width="3.2" height="3.2" fill="#942a70"/>
<rect x="149.8" y="525.0" width="3.2" height="3.2" fill="#942a70"/>
<rect x="155.2" y="525.8" width="3.2" height="3.2" fill="#942a70"/>
<rect x="160.6" y="526.8" width="3.2" height="3.2" fill="#942a70"/>
<rect x="166.0" y="529.1" width="3.2" height="3.2" fill="#942a70"/>
<rect x="171.5" y="532.4" width="3.2" height="3.2" fill="#942a70"/>
<rect x="176.9" y="532.8" width="3.2" height="3.2" fill="#942a70"/>
<rect x="182.3" y="532.3" width="3.2" height="3.2" fill="#942a70"/>
<rect x="187.8" y="534.4" width="3.2" height="3.2" fill="#942a70"/>
<rect x="193.2" y="535.9" width="3.2" height="3.2" fill="#942a70"/>
<rect x="198.6" y="536.3" width="3.2" height="3.2" fill="#942a70"/>
<rect x="204.0" y="535.9" width="3.2" height="3.2" fill="#942a70"/>
<rect x="209.5" y="536.5" width="3.2" height="3.2" fill="#942a70"/>
<rect x="214.9" y="537.8" width="3.2" height="3.2" fill="#942a70"/>
<rect x="220.3" y="539.2" width="3.2" height="3.2" fill="#942a70"/>
<rect x="225.8" y="540.5" width="3.2" height="3.2" fill="#942a70"/>
<rect x="231.2" y="538.8" width="3.2" height="3.2" fill="#942a70"/>
<rect x="236.6" y="540.8" width="3.2" height="3.2" fill="#942a70"/>
<rect x="242.0" y="540.8" width="3.2" height="3.2" fill="#942a70"/>
<rect x="247.5" y="540.2" width="3.2" height="3.2" fill="#942a70"/>
<rect x="252.9" y="539.2" width="3.2" height="3.2" fill="#942a70"/>
<rect x="258.3" y="540.8" width="3.2" height="3.2" fill="#942a70"/>
<rect x="263.8" y="543.3" width="3.2" height="3.2" fill="#942a70"/>
<rect x="269.2" y="538.8" width="3.2" height="3.2" fill="#942a70"/>
<rect x="274.6" y="539.8" width="3.2" height="3.2" fill="#942a70"/>
<rect x="280.0" y="540.2" width="3.2" height="3.2" fill="#942a70"/>
<rect x="285.5" y="542.3" width="3.2" height="3.2" fill="#942a70"/>
<rect x="290.9" y="542.5" width="3.2" height="3.2" fill="#942a70"/>
<rect x="296.3" y="539.7" width="3.2" height="3.2" fill="#942a70"/>
<rect x="301.8" y="539.4" width="3.2" height="3.2" fill="#942a70"/>
<rect x="307.2" y="541.8" width="3.2" height="3.2" fill="#942a70"/>
<rect x="312.6" y="541.9" width="3.2" height="3.2" fill="#942a70"/>
<rect x="318.0" y="542.9" width="3.2" height="3.2" fill="#942a70"/>
<rect x="323.5" y="542.9" width="3.2" height="3.2" fill="#942a70"/>
<rect x="328.9" y="540.0" width="3.2" height="3.2" fill="#942a70"/>
<rect x="334.3" y="540.0" width="3.2" height="3.2" fill="#942a70"/>
<rect x="339.8" y="543.6" width="3.2" height="3.2" fill="#942a70"/>
<rect x="345.2" y="542.3" width="3.2" height="3.2" fill="#942a70"/>
<rect x="350.6" y="540.6" width="3.2" height="3.2" fill="#942a70"/>
<rect x="356.0" y="540.6" width="3.2" height="3.2" fill="#942a70"/>
<rect x="361.5" y="540.0" width="3.2" height="3.2" fill="#942a70"/>
<rect x="366.9" y="540.9" width="3.2" height="3.2" fill="#942a70"/>
<rect x="372.3" y="538.6" width="3.2" height="3.2" fill="#942a70"/>
<rect x="377.8" y="539.4" width="3.2" height="3.2" fill="#942a70"/>
<rect x="383.2" y="538.6" width="3.2" height="3.2" fill="#942a70"/>
<rect x="388.6" y="538.6" width="3.2" height="3.2" fill="#942a70"/>
<rect x="394.0" y="535.8" width="3.2" height="3.2" fill="#942a70"/>
<rect x="399.5" y="535.9" width="3.2" height="3.2" fill="#942a70"/>
<rect x="404.9" y="534.6" width="3.2" height="3.2" fill="#942a70"/>
<rect x="410.3" y="533.8" width="3.2" height="3.2" fill="#942a70"/>
<rect x="415.8" y="531.3" width="3.2" height="3.2" fill="#942a70"/>
<rect x="421.2" y="528.6" width="3.2" height="3.2" fill="#942a70"/>
<rect x="426.6" y="528.1" width="3.2" height="3.2" fill="#942a70"/>
<rect x="432.0" y="524.4" width="3.2" height="3.2" fill="#942a70"/>
<rect x="437.5" y="521.9" width="3.2" height="3.2" fill="#942a70"/>
<rect x="442.9" y="519.6" width="3.2" height="3.2" fill="#942a70"/>
<polygon points="138.2,547.3 140.5,545.4 142.8,547.3 140.5,549.2" fill="#a08c34"/>
<polygon points="143.6,547.6 145.9,545.7 148.2,547.6 145.9,549.5" fill="#a08c34"/>
<polygon points="149.1,550.5 151.4,548.6 153.7,550.5 151.4,552.4" fill="#a08c34"/>
<polygon points="154.5,549.5 156.8,547.6 159.1,549.5 156.8,551.4" fill="#a08c34"/>
<polygon points="159.9,552.1 162.2,550.2 164.5,552.1 162.2,554.0" fill="#a08c34"/>
<polygon points="165.3,552.2 167.6,550.3 169.9,552.2 167.6,554.1" fill="#a08c34"/>
<polygon points="170.8,552.5 173.1,550.6 175.4,552.5 173.1,554.4" fill="#a08c34"/>
<polygon points="176.2,553.3 178.5,551.4 180.8,553.3 178.5,555.2" fill="#a08c34"/>
<polygon points="181.6,554.4 183.9,552.5 186.2,554.4 183.9,556.3" fill="#a08c34"/>
<polygon points="187.1,554.7 189.4,552.8 191.7,554.7 189.4,556.6" fill="#a08c34"/>
<polygon points="192.5,554.8 194.8,552.9 197.1,554.8 194.8,556.7" fill="#a08c34"/>
<polygon points="197.9,555.3 200.2,553.4 202.5,555.3 200.2,557.2" fill="#a08c34"/>
<polygon points="203.3,555.1 205.6,553.2 207.9,555.1 205.6,557.0" fill="#a08c34"/>
<polygon points="208.8,555.7 211.1,553.8 213.4,555.7 211.1,557.6" fill="#a08c34"/>
<polygon points="214.2,555.8 216.5,553.9 218.8,555.8 216.5,557.7" fill="#a08c34"/>
<polygon points="219.6,556.6 221.9,554.7 224.2,556.6 221.9,558.5" fill="#a08c34"/>
<polygon points="225.1,556.3 227.4,554.4 229.7,556.3 227.4,558.2" fill="#a08c34"/>
<polygon points="230.5,556.9 232.8,555.0 235.1,556.9 232.8,558.8" fill="#a08c34"/>
<polygon points="235.9,556.9 238.2,555.0 240.5,556.9 238.2,558.8" fill="#a08c34"/>
<polygon points="241.3,557.0 243.6,555.1 245.9,557.0 243.6,558.9" fill="#a08c34"/>
<polygon points="246.8,557.2 249.1,555.3 251.4,557.2 249.1,559.1" fill="#a08c34"/>
<polygon points="252.2,556.7 254.5,554.8 256.8,556.7 254.5,558.6" fill="#a08c34"/>
<polygon points="257.6,556.7 259.9,554.8 262.2,556.7 259.9,558.6" fill="#a08c34"/>
<polygon points="263.1,556.7 265.4,554.8 267.7,556.7 265.4,558.6" fill="#a08c34"/>
<polygon points="268.5,556.9 270.8,555.0 273.1,556.9 270.8,558.8" fill="#a08c34"/>
<polygon points="273.9,557.5 276.2,555.6 278.5,557.5 276.2,559.4" fill="#a08c34"/>
<polygon points="279.3,557.0 281.6,555.1 283.9,557.0 281.6,558.9" fill="#a08c34"/>
<polygon points="284.8,556.6 287.1,554.7 289.4,556.6 287.1,558.5" fill="#a08c34"/>
<polygon points="290.2,557.5 292.5,555.6 294.8,557.5 292.5,559.4" fill="#a08c34"/>
<polygon points="295.6,557.5 297.9,555.6 300.2,557.5 297.9,559.4" fill="#a08c34"/>
<polygon points="301.1,557.4 303.4,555.5 305.7,557.4 303.4,559.3" fill="#a08c34"/>
<polygon points="306.5,556.8 308.8,554.9 311.1,556.8 308.8,558.7" fill="#a08c34"/>
<polygon points="311.9,556.2 314.2,554.3 316.5,556.2 314.2,558.1" fill="#a08c34"/>
<polygon points="317.3,555.2 319.6,553.3 321.9,555.2 319.6,557.1" fill="#a08c34"/>
<polygon points="322.8,555.5 325.1,553.6 327.4,555.5 325.1,557.4" fill="#a08c34"/>
<polygon points="328.2,555.1 330.5,553.2 332.8,555.1 330.5,557.0" fill="#a08c34"/>
<polygon points="333.6,554.6 335.9,552.7 338.2,554.6 335.9,556.5" fill="#a08c34"/>
<polygon points="339.1,554.6 341.4,552.7 343.7,554.6 341.4,556.5" fill="#a08c34"/>
<polygon points="344.5,554.2 346.8,552.3 349.1,554.2 346.8,556.1" fill="#a08c34"/>
<polygon points="349.9,553.8 352.2,551.9 354.5,553.8 352.2,555.7" fill="#a08c34"/>
<polygon points="355.3,553.5 357.6,551.6 359.9,553.5 357.6,555.4" fill="#a08c34"/>
<polygon points="360.8,553.5 363.1,551.6 365.4,553.5 363.1,555.4" fill="#a08c34"/>
<polygon points="366.2,552.9 368.5,551.0 370.8,552.9 368.5,554.8" fill="#a08c34"/>
<polygon points="371.6,552.7 373.9,550.8 376.2,552.7 373.9,554.6" fill="#a08c34"/>
<polygon points="377.1,551.4 379.4,549.5 381.7,551.4 379.4,553.3" fill="#a08c34"/>
<polygon points="382.5,551.4 384.8,549.5 387.1,551.4 384.8,553.3" fill="#a08c34"/>
<polygon points="387.9,550.3 390.2,548.4 392.5,550.3 390.2,552.2" fill="#a08c34"/>
<polygon points="393.3,550.0 395.6,548.1 397.9,550.0 395.6,551.9" fill="#a08c34"/>
<polygon points="398.8,548.4 401.1,546.5 403.4,548.4 401.1,550.3" fill="#a08c34"/>
<polygon points="404.2,548.3 406.5,546.4 408.8,548.3 406.5,550.2" fill="#a08c34"/>
<polygon points="409.6,547.1 411.9,545.2 414.2,547.1 411.9,549.0" fill="#a08c34"/>
<polygon points="415.1,547.4 417.4,545.5 419.7,547.4 417.4,549.3" fill="#a08c34"/>
<polygon points="420.5,545.7 422.8,543.8 425.1,545.7 422.8,547.6" fill="#a08c34"/>
<polygon points="425.9,546.1 428.2,544.2 430.5,546.1 428.2,548.0" fill="#a08c34"/>
<polygon points="431.3,545.5 433.6,543.6 435.9,545.5 433.6,547.4" fill="#a08c34"/>
<polygon points="436.8,543.8 439.1,541.9 441.4,543.8 439.1,545.7" fill="#a08c34"/>
<polygon points="442.2,543.3 444.5,541.4 446.8,543.3 444.5,545.2" fill="#a08c34"/>
</g>
<path d="M450.6,496.2 C454.5,495.0 459,493.0 463.6,491.2 C461.8,493.59999999999997 461.4,495.0 461.4,496.2 C461.4,497.4 461.8,498.8 463.6,501.2 C459,499.4 454.5,497.4 450.6,496.2 Z" fill="#000"/>
<line x1="460" y1="496.2" x2="477.8" y2="496.2" stroke="#000" stroke-width="1.3"/>
<path d="M483.00,500.00 L489.10,488.70 L489.80,488.70 L495.90,500.00 Z M484.70,498.95 L493.60,498.95 L489.15,490.80 Z" fill="#000" fill-rule="evenodd"/>
<path d="M495.50,497.10 C498.40,496.40 501.60,493.80 502.40,490.80 C502.90,489.00 502.40,487.70 501.40,488.00 C499.60,488.50 497.00,492.00 496.70,495.40 C496.50,497.60 497.00,500.00 498.30,500.00 C499.40,500.00 500.40,499.10 501.20,498.10" fill="none" stroke="#000" stroke-width="1.00" stroke-linecap="round" stroke-linejoin="round"/>
<line x1="508.3" y1="494.9" x2="520.0" y2="494.9" stroke="#000" stroke-width="1.05"/>
<line x1="508.3" y1="498.5" x2="520.0" y2="498.5" stroke="#000" stroke-width="1.05"/>
<text x="525.3" y="500.0" font-family="'Liberation Serif', serif" font-size="16.5" textLength="8.8" lengthAdjust="spacingAndGlyphs">0</text>
<path d="M450.6,520.6 C454.5,519.4 459,517.4 463.6,515.6 C461.8,518.0 461.4,519.4 461.4,520.6 C461.4,521.8000000000001 461.8,523.2 463.6,525.6 C459,523.8000000000001 454.5,521.8000000000001 450.6,520.6 Z" fill="#000"/>
<line x1="460" y1="520.6" x2="477.8" y2="520.6" stroke="#000" stroke-width="1.3"/>
<path d="M483.00,524.40 L489.10,513.10 L489.80,513.10 L495.90,524.40 Z M484.70,523.35 L493.60,523.35 L489.15,515.20 Z" fill="#000" fill-rule="evenodd"/>
<path d="M495.50,521.50 C498.40,520.80 501.60,518.20 502.40,515.20 C502.90,513.40 502.40,512.10 501.40,512.40 C499.60,512.90 497.00,516.40 496.70,519.80 C496.50,522.00 497.00,524.40 498.30,524.40 C499.40,524.40 500.40,523.50 501.20,522.50" fill="none" stroke="#000" stroke-width="1.00" stroke-linecap="round" stroke-linejoin="round"/>
<line x1="508.3" y1="519.3" x2="520.0" y2="519.3" stroke="#000" stroke-width="1.05"/>
<line x1="508.3" y1="522.9" x2="520.0" y2="522.9" stroke="#000" stroke-width="1.05"/>
<text x="524.4" y="524.4" font-family="'Liberation Serif', serif" font-size="16.5" textLength="11" lengthAdjust="spacingAndGlyphs">±</text>
<text x="537.2" y="524.4" font-family="'Liberation Serif', serif" font-size="16.5" textLength="8.8" lengthAdjust="spacingAndGlyphs">1</text>
<path d="M450.6,542.9 C454.5,541.6999999999999 459,539.6999999999999 463.6,537.9 C461.8,540.3 461.4,541.6999999999999 461.4,542.9 C461.4,544.1 461.8,545.5 463.6,547.9 C459,546.1 454.5,544.1 450.6,542.9 Z" fill="#000"/>
<line x1="460" y1="542.9" x2="477.8" y2="542.9" stroke="#000" stroke-width="1.3"/>
<path d="M483.00,546.70 L489.10,535.40 L489.80,535.40 L495.90,546.70 Z M484.70,545.65 L493.60,545.65 L489.15,537.50 Z" fill="#000" fill-rule="evenodd"/>
<path d="M495.50,543.80 C498.40,543.10 501.60,540.50 502.40,537.50 C502.90,535.70 502.40,534.40 501.40,534.70 C499.60,535.20 497.00,538.70 496.70,542.10 C496.50,544.30 497.00,546.70 498.30,546.70 C499.40,546.70 500.40,545.80 501.20,544.80" fill="none" stroke="#000" stroke-width="1.00" stroke-linecap="round" stroke-linejoin="round"/>
<line x1="508.3" y1="541.6" x2="520.0" y2="541.6" stroke="#000" stroke-width="1.05"/>
<line x1="508.3" y1="545.2" x2="520.0" y2="545.2" stroke="#000" stroke-width="1.05"/>
<text x="524.4" y="546.6999999999999" font-family="'Liberation Serif', serif" font-size="16.5" textLength="11" lengthAdjust="spacingAndGlyphs">±</text>
<text x="537.2" y="546.6999999999999" font-family="'Liberation Serif', serif" font-size="16.5" textLength="8.8" lengthAdjust="spacingAndGlyphs">2</text>
</svg></body></html>
